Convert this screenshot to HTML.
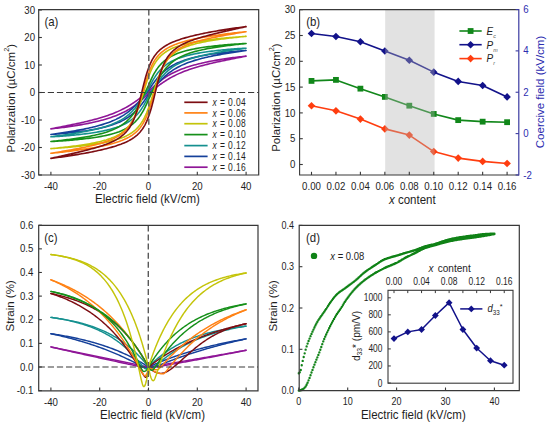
<!DOCTYPE html>
<html><head><meta charset="utf-8"><style>html,body{margin:0;padding:0;background:#fff;overflow:hidden;}svg{display:block;}</style></head><body>
<svg width="550" height="426" viewBox="0 0 550 426" font-family='"Liberation Sans", sans-serif'>
<rect width="550" height="426" fill="#fff"/>
<path d="M50.9,128.84 L52.53,128.67 L54.15,128.5 L55.78,128.32 L57.41,128.14 L59.03,127.95 L60.66,127.75 L62.29,127.55 L63.91,127.34 L65.54,127.13 L67.17,126.9 L68.79,126.68 L70.42,126.44 L72.05,126.2 L73.67,125.95 L75.3,125.69 L76.93,125.43 L78.55,125.16 L80.18,124.88 L81.81,124.59 L83.43,124.3 L85.06,123.99 L86.69,123.68 L88.31,123.36 L89.94,123.02 L91.57,122.68 L93.19,122.32 L94.82,121.95 L96.45,121.57 L98.07,121.18 L99.7,120.77 L101.33,120.35 L102.95,119.91 L104.58,119.45 L106.21,118.98 L107.83,118.48 L109.46,117.97 L111.09,117.43 L112.71,116.86 L114.34,116.27 L115.97,115.65 L117.59,115 L119.22,114.31 L120.85,113.59 L122.47,112.83 L124.1,112.03 L125.73,111.18 L127.35,110.28 L128.98,109.33 L129.96,108.74 L130.61,108.33 L130.93,108.12 L131.91,107.48 L132.23,107.27 L132.88,106.82 L133.86,106.14 L134.84,105.44 L135.49,104.96 L135.81,104.72 L136.79,103.97 L137.11,103.72 L137.76,103.2 L138.74,102.41 L139.72,101.6 L140.37,101.04 L140.69,100.76 L141.67,99.91 L141.99,99.62 L142.64,99.04 L143.62,98.15 L144.6,97.24 L145.25,96.64 L145.57,96.33 L146.55,95.4 L146.87,95.09 L147.52,94.46 L148.5,93.52 L149.48,92.74 L150.13,92.22 L150.45,91.96 L151.43,91.18 L151.75,90.92 L152.4,90.4 L153.38,89.63 L154.36,88.86 L155.01,88.35 L155.33,88.1 L156.31,87.34 L156.63,87.1 L157.28,86.6 L158.26,85.87 L159.24,85.15 L159.89,84.67 L160.21,84.44 L161.19,83.74 L161.51,83.51 L162.16,83.06 L163.14,82.39 L164.12,81.74 L164.77,81.31 L165.09,81.1 L166.07,80.47 L166.39,80.27 L167.04,79.86 L168.02,79.27 L169.65,78.31 L171.27,77.4 L172.9,76.52 L174.53,75.68 L176.15,74.88 L177.78,74.11 L179.41,73.38 L181.03,72.68 L182.66,72 L184.29,71.36 L185.91,70.74 L187.54,70.14 L189.17,69.57 L190.79,69.01 L192.42,68.48 L194.05,67.96 L195.67,67.47 L197.3,66.98 L198.93,66.52 L200.55,66.06 L202.18,65.62 L203.81,65.19 L205.43,64.77 L207.06,64.36 L208.69,63.96 L210.31,63.57 L211.94,63.19 L213.57,62.81 L215.19,62.45 L216.82,62.08 L218.45,61.73 L220.07,61.37 L221.7,61.03 L223.33,60.69 L224.95,60.35 L226.58,60.01 L228.21,59.68 L229.83,59.35 L231.46,59.03 L233.09,58.7 L234.71,58.38 L236.34,58.06 L237.97,57.74 L239.59,57.42 L241.22,57.11 L242.85,56.79 L244.47,56.48 L246.1,56.16 L246.1,56.16 L244.47,56.33 L242.85,56.5 L241.22,56.68 L239.59,56.86 L237.97,57.05 L236.34,57.25 L234.71,57.45 L233.09,57.66 L231.46,57.87 L229.83,58.1 L228.21,58.32 L226.58,58.56 L224.95,58.8 L223.33,59.05 L221.7,59.31 L220.07,59.57 L218.45,59.84 L216.82,60.12 L215.19,60.41 L213.57,60.7 L211.94,61.01 L210.31,61.32 L208.69,61.64 L207.06,61.98 L205.43,62.32 L203.81,62.68 L202.18,63.05 L200.55,63.43 L198.93,63.82 L197.3,64.23 L195.67,64.65 L194.05,65.09 L192.42,65.55 L190.79,66.02 L189.17,66.52 L187.54,67.03 L185.91,67.57 L184.29,68.14 L182.66,68.73 L181.03,69.35 L179.41,70 L177.78,70.69 L176.15,71.41 L174.53,72.17 L172.9,72.97 L171.27,73.82 L169.65,74.72 L168.02,75.67 L167.04,76.26 L166.39,76.67 L166.07,76.88 L165.09,77.52 L164.77,77.73 L164.12,78.18 L163.14,78.86 L162.16,79.56 L161.51,80.04 L161.19,80.28 L160.21,81.03 L159.89,81.28 L159.24,81.8 L158.26,82.59 L157.28,83.4 L156.63,83.96 L156.31,84.24 L155.33,85.09 L155.01,85.38 L154.36,85.96 L153.38,86.85 L152.4,87.76 L151.75,88.36 L151.43,88.67 L150.45,89.6 L150.13,89.91 L149.48,90.54 L148.5,91.48 L147.52,92.26 L146.87,92.78 L146.55,93.04 L145.57,93.82 L145.25,94.08 L144.6,94.6 L143.62,95.37 L142.64,96.14 L141.99,96.65 L141.67,96.9 L140.69,97.66 L140.37,97.9 L139.72,98.4 L138.74,99.13 L137.76,99.85 L137.11,100.33 L136.79,100.56 L135.81,101.26 L135.49,101.49 L134.84,101.94 L133.86,102.61 L132.88,103.26 L132.23,103.69 L131.91,103.9 L130.93,104.53 L130.61,104.73 L129.96,105.14 L128.98,105.73 L127.35,106.69 L125.73,107.6 L124.1,108.48 L122.47,109.32 L120.85,110.12 L119.22,110.89 L117.59,111.62 L115.97,112.32 L114.34,113 L112.71,113.64 L111.09,114.26 L109.46,114.86 L107.83,115.43 L106.21,115.99 L104.58,116.52 L102.95,117.04 L101.33,117.53 L99.7,118.02 L98.07,118.48 L96.45,118.94 L94.82,119.38 L93.19,119.81 L91.57,120.23 L89.94,120.64 L88.31,121.04 L86.69,121.43 L85.06,121.81 L83.43,122.19 L81.81,122.55 L80.18,122.92 L78.55,123.27 L76.93,123.63 L75.3,123.97 L73.67,124.31 L72.05,124.65 L70.42,124.99 L68.79,125.32 L67.17,125.65 L65.54,125.97 L63.91,126.3 L62.29,126.62 L60.66,126.94 L59.03,127.26 L57.41,127.58 L55.78,127.89 L54.15,128.21 L52.53,128.52 L50.9,128.84 L50.9,128.84" fill="none" stroke="#8f1697" stroke-width="1.6" stroke-linejoin="round" stroke-linecap="round"/>
<path d="M50.9,134.43 L52.53,134.32 L54.15,134.21 L55.78,134.09 L57.41,133.96 L59.03,133.83 L60.66,133.7 L62.29,133.56 L63.91,133.41 L65.54,133.26 L67.17,133.11 L68.79,132.94 L70.42,132.77 L72.05,132.6 L73.67,132.42 L75.3,132.23 L76.93,132.03 L78.55,131.83 L80.18,131.61 L81.81,131.39 L83.43,131.16 L85.06,130.93 L86.69,130.68 L88.31,130.42 L89.94,130.15 L91.57,129.87 L93.19,129.58 L94.82,129.27 L96.45,128.96 L98.07,128.62 L99.7,128.27 L101.33,127.9 L102.95,127.52 L104.58,127.11 L106.21,126.68 L107.83,126.23 L109.46,125.75 L111.09,125.24 L112.71,124.7 L114.34,124.12 L115.97,123.51 L117.59,122.86 L119.22,122.16 L120.85,121.41 L122.47,120.61 L124.1,119.74 L125.73,118.8 L127.35,117.79 L128.98,116.69 L129.96,115.99 L130.61,115.51 L130.93,115.26 L131.91,114.48 L132.23,114.22 L132.88,113.67 L133.86,112.82 L134.84,111.92 L135.49,111.3 L135.81,110.98 L136.79,109.99 L137.11,109.66 L137.76,108.96 L138.74,107.88 L139.72,106.75 L140.37,105.97 L140.69,105.57 L141.67,104.34 L141.99,103.93 L142.64,103.07 L143.62,101.76 L144.6,100.4 L145.25,99.47 L145.57,99.01 L146.55,97.58 L146.87,97.1 L147.52,96.13 L148.5,94.66 L149.48,93.47 L150.13,92.66 L150.45,92.26 L151.43,91.06 L151.75,90.66 L152.4,89.87 L153.38,88.68 L154.36,87.5 L155.01,86.73 L155.33,86.34 L156.31,85.2 L156.63,84.83 L157.28,84.09 L158.26,83 L159.24,81.93 L159.89,81.24 L160.21,80.89 L161.19,79.89 L161.51,79.56 L162.16,78.91 L163.14,77.96 L164.12,77.05 L164.77,76.46 L165.09,76.17 L166.07,75.32 L166.39,75.04 L167.04,74.5 L168.02,73.71 L169.65,72.46 L171.27,71.29 L172.9,70.19 L174.53,69.16 L176.15,68.19 L177.78,67.28 L179.41,66.43 L181.03,65.63 L182.66,64.88 L184.29,64.17 L185.91,63.49 L187.54,62.86 L189.17,62.25 L190.79,61.68 L192.42,61.14 L194.05,60.62 L195.67,60.12 L197.3,59.65 L198.93,59.2 L200.55,58.77 L202.18,58.35 L203.81,57.95 L205.43,57.56 L207.06,57.19 L208.69,56.83 L210.31,56.48 L211.94,56.15 L213.57,55.82 L215.19,55.5 L216.82,55.19 L218.45,54.89 L220.07,54.6 L221.7,54.31 L223.33,54.03 L224.95,53.76 L226.58,53.49 L228.21,53.23 L229.83,52.97 L231.46,52.71 L233.09,52.46 L234.71,52.22 L236.34,51.97 L237.97,51.73 L239.59,51.49 L241.22,51.26 L242.85,51.03 L244.47,50.8 L246.1,50.57 L246.1,50.57 L244.47,50.68 L242.85,50.79 L241.22,50.91 L239.59,51.04 L237.97,51.17 L236.34,51.3 L234.71,51.44 L233.09,51.59 L231.46,51.74 L229.83,51.89 L228.21,52.06 L226.58,52.23 L224.95,52.4 L223.33,52.58 L221.7,52.77 L220.07,52.97 L218.45,53.17 L216.82,53.39 L215.19,53.61 L213.57,53.84 L211.94,54.07 L210.31,54.32 L208.69,54.58 L207.06,54.85 L205.43,55.13 L203.81,55.42 L202.18,55.73 L200.55,56.04 L198.93,56.38 L197.3,56.73 L195.67,57.1 L194.05,57.48 L192.42,57.89 L190.79,58.32 L189.17,58.77 L187.54,59.25 L185.91,59.76 L184.29,60.3 L182.66,60.88 L181.03,61.49 L179.41,62.14 L177.78,62.84 L176.15,63.59 L174.53,64.39 L172.9,65.26 L171.27,66.2 L169.65,67.21 L168.02,68.31 L167.04,69.01 L166.39,69.49 L166.07,69.74 L165.09,70.52 L164.77,70.78 L164.12,71.33 L163.14,72.18 L162.16,73.08 L161.51,73.7 L161.19,74.02 L160.21,75.01 L159.89,75.34 L159.24,76.04 L158.26,77.12 L157.28,78.25 L156.63,79.03 L156.31,79.43 L155.33,80.66 L155.01,81.07 L154.36,81.93 L153.38,83.24 L152.4,84.6 L151.75,85.53 L151.43,85.99 L150.45,87.42 L150.13,87.9 L149.48,88.87 L148.5,90.34 L147.52,91.53 L146.87,92.34 L146.55,92.74 L145.57,93.94 L145.25,94.34 L144.6,95.13 L143.62,96.32 L142.64,97.5 L141.99,98.27 L141.67,98.66 L140.69,99.8 L140.37,100.17 L139.72,100.91 L138.74,102 L137.76,103.07 L137.11,103.76 L136.79,104.11 L135.81,105.11 L135.49,105.44 L134.84,106.09 L133.86,107.04 L132.88,107.95 L132.23,108.54 L131.91,108.83 L130.93,109.68 L130.61,109.96 L129.96,110.5 L128.98,111.29 L127.35,112.54 L125.73,113.71 L124.1,114.81 L122.47,115.84 L120.85,116.81 L119.22,117.72 L117.59,118.57 L115.97,119.37 L114.34,120.12 L112.71,120.83 L111.09,121.51 L109.46,122.14 L107.83,122.75 L106.21,123.32 L104.58,123.86 L102.95,124.38 L101.33,124.88 L99.7,125.35 L98.07,125.8 L96.45,126.23 L94.82,126.65 L93.19,127.05 L91.57,127.44 L89.94,127.81 L88.31,128.17 L86.69,128.52 L85.06,128.85 L83.43,129.18 L81.81,129.5 L80.18,129.81 L78.55,130.11 L76.93,130.4 L75.3,130.69 L73.67,130.97 L72.05,131.24 L70.42,131.51 L68.79,131.77 L67.17,132.03 L65.54,132.29 L63.91,132.54 L62.29,132.78 L60.66,133.03 L59.03,133.27 L57.41,133.51 L55.78,133.74 L54.15,133.97 L52.53,134.2 L50.9,134.43 L50.9,134.43" fill="none" stroke="#15409a" stroke-width="1.6" stroke-linejoin="round" stroke-linecap="round"/>
<path d="M50.9,136.81 L52.53,136.72 L54.15,136.63 L55.78,136.54 L57.41,136.44 L59.03,136.33 L60.66,136.22 L62.29,136.1 L63.91,135.98 L65.54,135.86 L67.17,135.72 L68.79,135.59 L70.42,135.44 L72.05,135.29 L73.67,135.14 L75.3,134.98 L76.93,134.81 L78.55,134.63 L80.18,134.45 L81.81,134.27 L83.43,134.07 L85.06,133.87 L86.69,133.65 L88.31,133.43 L89.94,133.21 L91.57,132.97 L93.19,132.72 L94.82,132.46 L96.45,132.19 L98.07,131.9 L99.7,131.6 L101.33,131.29 L102.95,130.96 L104.58,130.62 L106.21,130.25 L107.83,129.87 L109.46,129.46 L111.09,129.03 L112.71,128.57 L114.34,128.08 L115.97,127.56 L117.59,127 L119.22,126.4 L120.85,125.75 L122.47,125.04 L124.1,124.28 L125.73,123.44 L127.35,122.53 L128.98,121.52 L129.96,120.87 L130.61,120.41 L130.93,120.17 L131.91,119.44 L132.23,119.18 L132.88,118.65 L133.86,117.81 L134.84,116.92 L135.49,116.29 L135.81,115.96 L136.79,114.94 L137.11,114.58 L137.76,113.85 L138.74,112.68 L139.72,111.43 L140.37,110.55 L140.69,110.1 L141.67,108.68 L141.99,108.18 L142.64,107.17 L143.62,105.57 L144.6,103.88 L145.25,102.7 L145.57,102.1 L146.55,100.25 L146.87,99.62 L147.52,98.34 L148.5,96.37 L149.48,94.85 L150.13,93.82 L150.45,93.31 L151.43,91.77 L151.75,91.25 L152.4,90.23 L153.38,88.7 L154.36,87.2 L155.01,86.21 L155.33,85.72 L156.31,84.28 L156.63,83.81 L157.28,82.88 L158.26,81.52 L159.24,80.21 L159.89,79.36 L160.21,78.95 L161.19,77.74 L161.51,77.35 L162.16,76.58 L163.14,75.48 L164.12,74.42 L164.77,73.75 L165.09,73.42 L166.07,72.46 L166.39,72.15 L167.04,71.55 L168.02,70.68 L169.65,69.34 L171.27,68.09 L172.9,66.95 L174.53,65.9 L176.15,64.92 L177.78,64.02 L179.41,63.18 L181.03,62.4 L182.66,61.67 L184.29,60.99 L185.91,60.35 L187.54,59.75 L189.17,59.19 L190.79,58.65 L192.42,58.15 L194.05,57.67 L195.67,57.21 L197.3,56.77 L198.93,56.36 L200.55,55.96 L202.18,55.57 L203.81,55.2 L205.43,54.85 L207.06,54.51 L208.69,54.17 L210.31,53.85 L211.94,53.54 L213.57,53.24 L215.19,52.94 L216.82,52.65 L218.45,52.37 L220.07,52.1 L221.7,51.83 L223.33,51.56 L224.95,51.3 L226.58,51.05 L228.21,50.8 L229.83,50.55 L231.46,50.3 L233.09,50.06 L234.71,49.82 L236.34,49.58 L237.97,49.35 L239.59,49.12 L241.22,48.88 L242.85,48.65 L244.47,48.42 L246.1,48.19 L246.1,48.19 L244.47,48.28 L242.85,48.37 L241.22,48.46 L239.59,48.56 L237.97,48.67 L236.34,48.78 L234.71,48.9 L233.09,49.02 L231.46,49.14 L229.83,49.28 L228.21,49.41 L226.58,49.56 L224.95,49.71 L223.33,49.86 L221.7,50.02 L220.07,50.19 L218.45,50.37 L216.82,50.55 L215.19,50.73 L213.57,50.93 L211.94,51.13 L210.31,51.35 L208.69,51.57 L207.06,51.79 L205.43,52.03 L203.81,52.28 L202.18,52.54 L200.55,52.81 L198.93,53.1 L197.3,53.4 L195.67,53.71 L194.05,54.04 L192.42,54.38 L190.79,54.75 L189.17,55.13 L187.54,55.54 L185.91,55.97 L184.29,56.43 L182.66,56.92 L181.03,57.44 L179.41,58 L177.78,58.6 L176.15,59.25 L174.53,59.96 L172.9,60.72 L171.27,61.56 L169.65,62.47 L168.02,63.48 L167.04,64.13 L166.39,64.59 L166.07,64.83 L165.09,65.56 L164.77,65.82 L164.12,66.35 L163.14,67.19 L162.16,68.08 L161.51,68.71 L161.19,69.04 L160.21,70.06 L159.89,70.42 L159.24,71.15 L158.26,72.32 L157.28,73.57 L156.63,74.45 L156.31,74.9 L155.33,76.32 L155.01,76.82 L154.36,77.83 L153.38,79.43 L152.4,81.12 L151.75,82.3 L151.43,82.9 L150.45,84.75 L150.13,85.38 L149.48,86.66 L148.5,88.63 L147.52,90.15 L146.87,91.18 L146.55,91.69 L145.57,93.23 L145.25,93.75 L144.6,94.77 L143.62,96.3 L142.64,97.8 L141.99,98.79 L141.67,99.28 L140.69,100.72 L140.37,101.19 L139.72,102.12 L138.74,103.48 L137.76,104.79 L137.11,105.64 L136.79,106.05 L135.81,107.26 L135.49,107.65 L134.84,108.42 L133.86,109.52 L132.88,110.58 L132.23,111.25 L131.91,111.58 L130.93,112.54 L130.61,112.85 L129.96,113.45 L128.98,114.32 L127.35,115.66 L125.73,116.91 L124.1,118.05 L122.47,119.1 L120.85,120.08 L119.22,120.98 L117.59,121.82 L115.97,122.6 L114.34,123.33 L112.71,124.01 L111.09,124.65 L109.46,125.25 L107.83,125.81 L106.21,126.35 L104.58,126.85 L102.95,127.33 L101.33,127.79 L99.7,128.23 L98.07,128.64 L96.45,129.04 L94.82,129.43 L93.19,129.8 L91.57,130.15 L89.94,130.49 L88.31,130.83 L86.69,131.15 L85.06,131.46 L83.43,131.76 L81.81,132.06 L80.18,132.35 L78.55,132.63 L76.93,132.9 L75.3,133.17 L73.67,133.44 L72.05,133.7 L70.42,133.95 L68.79,134.2 L67.17,134.45 L65.54,134.7 L63.91,134.94 L62.29,135.18 L60.66,135.42 L59.03,135.65 L57.41,135.88 L55.78,136.12 L54.15,136.35 L52.53,136.58 L50.9,136.81 L50.9,136.81" fill="none" stroke="#15908f" stroke-width="1.6" stroke-linejoin="round" stroke-linecap="round"/>
<path d="M50.9,141.53 L52.53,141.44 L54.15,141.35 L55.78,141.25 L57.41,141.15 L59.03,141.05 L60.66,140.94 L62.29,140.83 L63.91,140.72 L65.54,140.6 L67.17,140.48 L68.79,140.35 L70.42,140.21 L72.05,140.08 L73.67,139.93 L75.3,139.79 L76.93,139.63 L78.55,139.47 L80.18,139.3 L81.81,139.13 L83.43,138.95 L85.06,138.77 L86.69,138.57 L88.31,138.37 L89.94,138.16 L91.57,137.93 L93.19,137.7 L94.82,137.46 L96.45,137.21 L98.07,136.94 L99.7,136.66 L101.33,136.37 L102.95,136.06 L104.58,135.73 L106.21,135.39 L107.83,135.02 L109.46,134.63 L111.09,134.21 L112.71,133.77 L114.34,133.3 L115.97,132.79 L117.59,132.24 L119.22,131.65 L120.85,131 L122.47,130.31 L124.1,129.55 L125.73,128.71 L127.35,127.8 L128.98,126.79 L129.96,126.13 L130.61,125.66 L130.93,125.43 L131.91,124.68 L132.23,124.42 L132.88,123.88 L133.86,123.02 L134.84,122.1 L135.49,121.45 L135.81,121.11 L136.79,120.05 L137.11,119.68 L137.76,118.91 L138.74,117.69 L139.72,116.37 L140.37,115.44 L140.69,114.95 L141.67,113.43 L141.99,112.9 L142.64,111.79 L143.62,110.04 L144.6,108.17 L145.25,106.86 L145.57,106.18 L146.55,104.09 L146.87,103.36 L147.52,101.88 L148.5,99.59 L149.48,97.59 L150.13,96.23 L150.45,95.55 L151.43,93.48 L151.75,92.79 L152.4,91.4 L153.38,89.34 L154.36,87.3 L155.01,85.96 L155.33,85.3 L156.31,83.35 L156.63,82.71 L157.28,81.46 L158.26,79.65 L159.24,77.91 L159.89,76.8 L160.21,76.26 L161.19,74.69 L161.51,74.19 L162.16,73.21 L163.14,71.81 L164.12,70.49 L164.77,69.65 L165.09,69.25 L166.07,68.08 L166.39,67.71 L167.04,66.98 L168.02,65.95 L169.65,64.36 L171.27,62.92 L172.9,61.62 L174.53,60.44 L176.15,59.37 L177.78,58.38 L179.41,57.48 L181.03,56.65 L182.66,55.89 L184.29,55.18 L185.91,54.52 L187.54,53.91 L189.17,53.34 L190.79,52.8 L192.42,52.3 L194.05,51.83 L195.67,51.38 L197.3,50.96 L198.93,50.56 L200.55,50.17 L202.18,49.81 L203.81,49.46 L205.43,49.13 L207.06,48.82 L208.69,48.51 L210.31,48.22 L211.94,47.94 L213.57,47.66 L215.19,47.4 L216.82,47.15 L218.45,46.9 L220.07,46.66 L221.7,46.43 L223.33,46.2 L224.95,45.98 L226.58,45.76 L228.21,45.55 L229.83,45.35 L231.46,45.15 L233.09,44.95 L234.71,44.75 L236.34,44.56 L237.97,44.37 L239.59,44.19 L241.22,44.01 L242.85,43.83 L244.47,43.65 L246.1,43.47 L246.1,43.47 L244.47,43.56 L242.85,43.65 L241.22,43.75 L239.59,43.85 L237.97,43.95 L236.34,44.06 L234.71,44.17 L233.09,44.28 L231.46,44.4 L229.83,44.52 L228.21,44.65 L226.58,44.79 L224.95,44.92 L223.33,45.07 L221.7,45.21 L220.07,45.37 L218.45,45.53 L216.82,45.7 L215.19,45.87 L213.57,46.05 L211.94,46.23 L210.31,46.43 L208.69,46.63 L207.06,46.84 L205.43,47.07 L203.81,47.3 L202.18,47.54 L200.55,47.79 L198.93,48.06 L197.3,48.34 L195.67,48.63 L194.05,48.94 L192.42,49.27 L190.79,49.61 L189.17,49.98 L187.54,50.37 L185.91,50.79 L184.29,51.23 L182.66,51.7 L181.03,52.21 L179.41,52.76 L177.78,53.35 L176.15,54 L174.53,54.69 L172.9,55.45 L171.27,56.29 L169.65,57.2 L168.02,58.21 L167.04,58.87 L166.39,59.34 L166.07,59.57 L165.09,60.32 L164.77,60.58 L164.12,61.12 L163.14,61.98 L162.16,62.9 L161.51,63.55 L161.19,63.89 L160.21,64.95 L159.89,65.32 L159.24,66.09 L158.26,67.31 L157.28,68.63 L156.63,69.56 L156.31,70.05 L155.33,71.57 L155.01,72.1 L154.36,73.21 L153.38,74.96 L152.4,76.83 L151.75,78.14 L151.43,78.82 L150.45,80.91 L150.13,81.64 L149.48,83.12 L148.5,85.41 L147.52,87.41 L146.87,88.77 L146.55,89.45 L145.57,91.52 L145.25,92.21 L144.6,93.6 L143.62,95.66 L142.64,97.7 L141.99,99.04 L141.67,99.7 L140.69,101.65 L140.37,102.29 L139.72,103.54 L138.74,105.35 L137.76,107.09 L137.11,108.2 L136.79,108.74 L135.81,110.31 L135.49,110.81 L134.84,111.79 L133.86,113.19 L132.88,114.51 L132.23,115.35 L131.91,115.75 L130.93,116.92 L130.61,117.29 L129.96,118.02 L128.98,119.05 L127.35,120.64 L125.73,122.08 L124.1,123.38 L122.47,124.56 L120.85,125.63 L119.22,126.62 L117.59,127.52 L115.97,128.35 L114.34,129.11 L112.71,129.82 L111.09,130.48 L109.46,131.09 L107.83,131.66 L106.21,132.2 L104.58,132.7 L102.95,133.17 L101.33,133.62 L99.7,134.04 L98.07,134.44 L96.45,134.83 L94.82,135.19 L93.19,135.54 L91.57,135.87 L89.94,136.18 L88.31,136.49 L86.69,136.78 L85.06,137.06 L83.43,137.34 L81.81,137.6 L80.18,137.85 L78.55,138.1 L76.93,138.34 L75.3,138.57 L73.67,138.8 L72.05,139.02 L70.42,139.24 L68.79,139.45 L67.17,139.65 L65.54,139.85 L63.91,140.05 L62.29,140.25 L60.66,140.44 L59.03,140.63 L57.41,140.81 L55.78,140.99 L54.15,141.17 L52.53,141.35 L50.9,141.53 L50.9,141.53" fill="none" stroke="#16901a" stroke-width="1.6" stroke-linejoin="round" stroke-linecap="round"/>
<path d="M50.9,148.67 L52.53,148.55 L54.15,148.43 L55.78,148.31 L57.41,148.18 L59.03,148.05 L60.66,147.92 L62.29,147.79 L63.91,147.65 L65.54,147.51 L67.17,147.37 L68.79,147.23 L70.42,147.08 L72.05,146.92 L73.67,146.76 L75.3,146.6 L76.93,146.44 L78.55,146.27 L80.18,146.09 L81.81,145.91 L83.43,145.72 L85.06,145.53 L86.69,145.33 L88.31,145.13 L89.94,144.91 L91.57,144.69 L93.19,144.46 L94.82,144.23 L96.45,143.98 L98.07,143.72 L99.7,143.45 L101.33,143.17 L102.95,142.87 L104.58,142.56 L106.21,142.24 L107.83,141.9 L109.46,141.53 L111.09,141.15 L112.71,140.74 L114.34,140.31 L115.97,139.84 L117.59,139.35 L119.22,138.81 L120.85,138.24 L122.47,137.61 L124.1,136.93 L125.73,136.19 L127.35,135.38 L128.98,134.49 L129.96,133.9 L130.61,133.5 L130.93,133.28 L131.91,132.62 L132.23,132.39 L132.88,131.91 L133.86,131.15 L134.84,130.33 L135.49,129.76 L135.81,129.45 L136.79,128.5 L137.11,128.17 L137.76,127.48 L138.74,126.36 L139.72,125.15 L140.37,124.29 L140.69,123.84 L141.67,122.41 L141.99,121.9 L142.64,120.84 L143.62,119.14 L144.6,117.28 L145.25,115.94 L145.57,115.25 L146.55,113.05 L146.87,112.27 L147.52,110.66 L148.5,108.09 L149.48,105.34 L150.13,103.43 L150.45,102.44 L151.43,99.4 L151.75,98.36 L152.4,96.26 L153.38,93.06 L154.36,89.84 L155.01,87.72 L155.33,86.67 L156.31,83.59 L156.63,82.59 L157.28,80.63 L158.26,77.83 L159.24,75.2 L159.89,73.55 L160.21,72.75 L161.19,70.48 L161.51,69.77 L162.16,68.39 L163.14,66.48 L164.12,64.72 L164.77,63.63 L165.09,63.1 L166.07,61.62 L166.39,61.16 L167.04,60.26 L168.02,59.02 L169.65,57.15 L171.27,55.51 L172.9,54.07 L174.53,52.8 L176.15,51.66 L177.78,50.63 L179.41,49.71 L181.03,48.87 L182.66,48.11 L184.29,47.41 L185.91,46.76 L187.54,46.17 L189.17,45.62 L190.79,45.1 L192.42,44.62 L194.05,44.17 L195.67,43.74 L197.3,43.34 L198.93,42.96 L200.55,42.6 L202.18,42.26 L203.81,41.94 L205.43,41.62 L207.06,41.33 L208.69,41.04 L210.31,40.76 L211.94,40.5 L213.57,40.24 L215.19,40 L216.82,39.76 L218.45,39.53 L220.07,39.3 L221.7,39.08 L223.33,38.87 L224.95,38.66 L226.58,38.46 L228.21,38.27 L229.83,38.07 L231.46,37.88 L233.09,37.7 L234.71,37.52 L236.34,37.34 L237.97,37.17 L239.59,36.99 L241.22,36.82 L242.85,36.66 L244.47,36.49 L246.1,36.33 L246.1,36.33 L244.47,36.45 L242.85,36.57 L241.22,36.69 L239.59,36.82 L237.97,36.95 L236.34,37.08 L234.71,37.21 L233.09,37.35 L231.46,37.49 L229.83,37.63 L228.21,37.77 L226.58,37.92 L224.95,38.08 L223.33,38.24 L221.7,38.4 L220.07,38.56 L218.45,38.73 L216.82,38.91 L215.19,39.09 L213.57,39.28 L211.94,39.47 L210.31,39.67 L208.69,39.87 L207.06,40.09 L205.43,40.31 L203.81,40.54 L202.18,40.77 L200.55,41.02 L198.93,41.28 L197.3,41.55 L195.67,41.83 L194.05,42.13 L192.42,42.44 L190.79,42.76 L189.17,43.1 L187.54,43.47 L185.91,43.85 L184.29,44.26 L182.66,44.69 L181.03,45.16 L179.41,45.65 L177.78,46.19 L176.15,46.76 L174.53,47.39 L172.9,48.07 L171.27,48.81 L169.65,49.62 L168.02,50.51 L167.04,51.1 L166.39,51.5 L166.07,51.72 L165.09,52.38 L164.77,52.61 L164.12,53.09 L163.14,53.85 L162.16,54.67 L161.51,55.24 L161.19,55.55 L160.21,56.5 L159.89,56.83 L159.24,57.52 L158.26,58.64 L157.28,59.85 L156.63,60.71 L156.31,61.16 L155.33,62.59 L155.01,63.1 L154.36,64.16 L153.38,65.86 L152.4,67.72 L151.75,69.06 L151.43,69.75 L150.45,71.95 L150.13,72.73 L149.48,74.34 L148.5,76.91 L147.52,79.66 L146.87,81.57 L146.55,82.56 L145.57,85.6 L145.25,86.64 L144.6,88.74 L143.62,91.94 L142.64,95.16 L141.99,97.28 L141.67,98.33 L140.69,101.41 L140.37,102.41 L139.72,104.37 L138.74,107.17 L137.76,109.8 L137.11,111.45 L136.79,112.25 L135.81,114.52 L135.49,115.23 L134.84,116.61 L133.86,118.52 L132.88,120.28 L132.23,121.37 L131.91,121.9 L130.93,123.38 L130.61,123.84 L129.96,124.74 L128.98,125.98 L127.35,127.85 L125.73,129.49 L124.1,130.93 L122.47,132.2 L120.85,133.34 L119.22,134.37 L117.59,135.29 L115.97,136.13 L114.34,136.89 L112.71,137.59 L111.09,138.24 L109.46,138.83 L107.83,139.38 L106.21,139.9 L104.58,140.38 L102.95,140.83 L101.33,141.26 L99.7,141.66 L98.07,142.04 L96.45,142.4 L94.82,142.74 L93.19,143.06 L91.57,143.38 L89.94,143.67 L88.31,143.96 L86.69,144.24 L85.06,144.5 L83.43,144.76 L81.81,145 L80.18,145.24 L78.55,145.47 L76.93,145.7 L75.3,145.92 L73.67,146.13 L72.05,146.34 L70.42,146.54 L68.79,146.73 L67.17,146.93 L65.54,147.12 L63.91,147.3 L62.29,147.48 L60.66,147.66 L59.03,147.83 L57.41,148.01 L55.78,148.18 L54.15,148.34 L52.53,148.51 L50.9,148.67 L50.9,148.67" fill="none" stroke="#c4c40a" stroke-width="1.6" stroke-linejoin="round" stroke-linecap="round"/>
<path d="M50.9,153.29 L52.53,153.13 L54.15,152.97 L55.78,152.8 L57.41,152.63 L59.03,152.46 L60.66,152.28 L62.29,152.1 L63.91,151.92 L65.54,151.73 L67.17,151.53 L68.79,151.34 L70.42,151.13 L72.05,150.93 L73.67,150.72 L75.3,150.5 L76.93,150.28 L78.55,150.06 L80.18,149.83 L81.81,149.59 L83.43,149.35 L85.06,149.11 L86.69,148.85 L88.31,148.59 L89.94,148.33 L91.57,148.05 L93.19,147.77 L94.82,147.48 L96.45,147.18 L98.07,146.87 L99.7,146.55 L101.33,146.22 L102.95,145.88 L104.58,145.52 L106.21,145.15 L107.83,144.76 L109.46,144.36 L111.09,143.94 L112.71,143.49 L114.34,143.03 L115.97,142.53 L117.59,142.01 L119.22,141.46 L120.85,140.87 L122.47,140.23 L124.1,139.55 L125.73,138.81 L127.35,138.01 L128.98,137.14 L129.96,136.57 L130.61,136.18 L130.93,135.98 L131.91,135.34 L132.23,135.12 L132.88,134.66 L133.86,133.93 L134.84,133.15 L135.49,132.6 L135.81,132.32 L136.79,131.42 L137.11,131.1 L137.76,130.44 L138.74,129.39 L139.72,128.24 L140.37,127.42 L140.69,126.99 L141.67,125.62 L141.99,125.14 L142.64,124.13 L143.62,122.48 L144.6,120.67 L145.25,119.36 L145.57,118.68 L146.55,116.48 L146.87,115.71 L147.52,114.07 L148.5,111.44 L149.48,108.73 L150.13,106.81 L150.45,105.81 L151.43,102.71 L151.75,101.64 L152.4,99.46 L153.38,96.08 L154.36,92.64 L155.01,90.34 L155.33,89.2 L156.31,85.82 L156.63,84.71 L157.28,82.54 L158.26,79.42 L159.24,76.49 L159.89,74.64 L160.21,73.76 L161.19,71.23 L161.51,70.44 L162.16,68.91 L163.14,66.79 L164.12,64.85 L164.77,63.65 L165.09,63.07 L166.07,61.45 L166.39,60.95 L167.04,59.97 L168.02,58.61 L169.65,56.59 L171.27,54.82 L172.9,53.27 L174.53,51.89 L176.15,50.66 L177.78,49.55 L179.41,48.55 L181.03,47.63 L182.66,46.8 L184.29,46.02 L185.91,45.31 L187.54,44.64 L189.17,44.02 L190.79,43.43 L192.42,42.88 L194.05,42.35 L195.67,41.86 L197.3,41.38 L198.93,40.93 L200.55,40.49 L202.18,40.08 L203.81,39.67 L205.43,39.28 L207.06,38.91 L208.69,38.54 L210.31,38.19 L211.94,37.84 L213.57,37.5 L215.19,37.17 L216.82,36.85 L218.45,36.53 L220.07,36.22 L221.7,35.92 L223.33,35.61 L224.95,35.32 L226.58,35.02 L228.21,34.74 L229.83,34.45 L231.46,34.17 L233.09,33.89 L234.71,33.61 L236.34,33.33 L237.97,33.06 L239.59,32.78 L241.22,32.51 L242.85,32.24 L244.47,31.97 L246.1,31.71 L246.1,31.71 L244.47,31.87 L242.85,32.03 L241.22,32.2 L239.59,32.37 L237.97,32.54 L236.34,32.72 L234.71,32.9 L233.09,33.08 L231.46,33.27 L229.83,33.47 L228.21,33.66 L226.58,33.87 L224.95,34.07 L223.33,34.28 L221.7,34.5 L220.07,34.72 L218.45,34.94 L216.82,35.17 L215.19,35.41 L213.57,35.65 L211.94,35.89 L210.31,36.15 L208.69,36.41 L207.06,36.67 L205.43,36.95 L203.81,37.23 L202.18,37.52 L200.55,37.82 L198.93,38.13 L197.3,38.45 L195.67,38.78 L194.05,39.12 L192.42,39.48 L190.79,39.85 L189.17,40.24 L187.54,40.64 L185.91,41.06 L184.29,41.51 L182.66,41.97 L181.03,42.47 L179.41,42.99 L177.78,43.54 L176.15,44.13 L174.53,44.77 L172.9,45.45 L171.27,46.19 L169.65,46.99 L168.02,47.86 L167.04,48.43 L166.39,48.82 L166.07,49.02 L165.09,49.66 L164.77,49.88 L164.12,50.34 L163.14,51.07 L162.16,51.85 L161.51,52.4 L161.19,52.68 L160.21,53.58 L159.89,53.9 L159.24,54.56 L158.26,55.61 L157.28,56.76 L156.63,57.58 L156.31,58.01 L155.33,59.38 L155.01,59.86 L154.36,60.87 L153.38,62.52 L152.4,64.33 L151.75,65.64 L151.43,66.32 L150.45,68.52 L150.13,69.29 L149.48,70.93 L148.5,73.56 L147.52,76.27 L146.87,78.19 L146.55,79.19 L145.57,82.29 L145.25,83.36 L144.6,85.54 L143.62,88.92 L142.64,92.36 L141.99,94.66 L141.67,95.8 L140.69,99.18 L140.37,100.29 L139.72,102.46 L138.74,105.58 L137.76,108.51 L137.11,110.36 L136.79,111.24 L135.81,113.77 L135.49,114.56 L134.84,116.09 L133.86,118.21 L132.88,120.15 L132.23,121.35 L131.91,121.93 L130.93,123.55 L130.61,124.05 L129.96,125.03 L128.98,126.39 L127.35,128.41 L125.73,130.18 L124.1,131.73 L122.47,133.11 L120.85,134.34 L119.22,135.45 L117.59,136.45 L115.97,137.37 L114.34,138.2 L112.71,138.98 L111.09,139.69 L109.46,140.36 L107.83,140.98 L106.21,141.57 L104.58,142.12 L102.95,142.65 L101.33,143.14 L99.7,143.62 L98.07,144.07 L96.45,144.51 L94.82,144.92 L93.19,145.33 L91.57,145.72 L89.94,146.09 L88.31,146.46 L86.69,146.81 L85.06,147.16 L83.43,147.5 L81.81,147.83 L80.18,148.15 L78.55,148.47 L76.93,148.78 L75.3,149.08 L73.67,149.39 L72.05,149.68 L70.42,149.98 L68.79,150.26 L67.17,150.55 L65.54,150.83 L63.91,151.11 L62.29,151.39 L60.66,151.67 L59.03,151.94 L57.41,152.22 L55.78,152.49 L54.15,152.76 L52.53,153.03 L50.9,153.29 L50.9,153.29" fill="none" stroke="#ff8215" stroke-width="1.6" stroke-linejoin="round" stroke-linecap="round"/>
<path d="M50.9,158.37 L52.53,158.17 L54.15,157.96 L55.78,157.75 L57.41,157.54 L59.03,157.32 L60.66,157.1 L62.29,156.87 L63.91,156.64 L65.54,156.4 L67.17,156.16 L68.79,155.92 L70.42,155.67 L72.05,155.41 L73.67,155.16 L75.3,154.89 L76.93,154.62 L78.55,154.35 L80.18,154.07 L81.81,153.78 L83.43,153.49 L85.06,153.2 L86.69,152.89 L88.31,152.59 L89.94,152.27 L91.57,151.95 L93.19,151.62 L94.82,151.28 L96.45,150.94 L98.07,150.58 L99.7,150.22 L101.33,149.85 L102.95,149.46 L104.58,149.07 L106.21,148.66 L107.83,148.24 L109.46,147.81 L111.09,147.36 L112.71,146.89 L114.34,146.4 L115.97,145.89 L117.59,145.35 L119.22,144.79 L120.85,144.2 L122.47,143.57 L124.1,142.9 L125.73,142.19 L127.35,141.42 L128.98,140.6 L129.96,140.06 L130.61,139.69 L130.93,139.5 L131.91,138.91 L132.23,138.71 L132.88,138.28 L133.86,137.62 L134.84,136.9 L135.49,136.4 L135.81,136.14 L136.79,135.32 L137.11,135.04 L137.76,134.44 L138.74,133.49 L139.72,132.45 L140.37,131.71 L140.69,131.32 L141.67,130.08 L141.99,129.64 L142.64,128.72 L143.62,127.21 L144.6,125.54 L145.25,124.32 L145.57,123.68 L146.55,121.6 L146.87,120.86 L147.52,119.28 L148.5,116.68 L149.48,113.96 L150.13,111.99 L150.45,110.96 L151.43,107.67 L151.75,106.52 L152.4,104.11 L153.38,100.31 L154.36,96.34 L155.01,93.63 L155.33,92.27 L156.31,88.2 L156.63,86.87 L157.28,84.24 L158.26,80.46 L159.24,76.92 L159.89,74.71 L160.21,73.66 L161.19,70.68 L161.51,69.75 L162.16,67.99 L163.14,65.56 L164.12,63.37 L164.77,62.04 L165.09,61.4 L166.07,59.63 L166.39,59.08 L167.04,58.02 L168.02,56.57 L169.65,54.43 L171.27,52.58 L172.9,50.96 L174.53,49.54 L176.15,48.27 L177.78,47.13 L179.41,46.1 L181.03,45.15 L182.66,44.28 L184.29,43.48 L185.91,42.73 L187.54,42.03 L189.17,41.37 L190.79,40.74 L192.42,40.15 L194.05,39.58 L195.67,39.04 L197.3,38.51 L198.93,38.01 L200.55,37.52 L202.18,37.05 L203.81,36.59 L205.43,36.15 L207.06,35.71 L208.69,35.28 L210.31,34.87 L211.94,34.45 L213.57,34.05 L215.19,33.65 L216.82,33.26 L218.45,32.87 L220.07,32.49 L221.7,32.11 L223.33,31.74 L224.95,31.36 L226.58,30.99 L228.21,30.62 L229.83,30.26 L231.46,29.89 L233.09,29.53 L234.71,29.17 L236.34,28.8 L237.97,28.44 L239.59,28.08 L241.22,27.72 L242.85,27.36 L244.47,26.99 L246.1,26.63 L246.1,26.63 L244.47,26.83 L242.85,27.04 L241.22,27.25 L239.59,27.46 L237.97,27.68 L236.34,27.9 L234.71,28.13 L233.09,28.36 L231.46,28.6 L229.83,28.84 L228.21,29.08 L226.58,29.33 L224.95,29.59 L223.33,29.84 L221.7,30.11 L220.07,30.38 L218.45,30.65 L216.82,30.93 L215.19,31.22 L213.57,31.51 L211.94,31.8 L210.31,32.11 L208.69,32.41 L207.06,32.73 L205.43,33.05 L203.81,33.38 L202.18,33.72 L200.55,34.06 L198.93,34.42 L197.3,34.78 L195.67,35.15 L194.05,35.54 L192.42,35.93 L190.79,36.34 L189.17,36.76 L187.54,37.19 L185.91,37.64 L184.29,38.11 L182.66,38.6 L181.03,39.11 L179.41,39.65 L177.78,40.21 L176.15,40.8 L174.53,41.43 L172.9,42.1 L171.27,42.81 L169.65,43.58 L168.02,44.4 L167.04,44.94 L166.39,45.31 L166.07,45.5 L165.09,46.09 L164.77,46.29 L164.12,46.72 L163.14,47.38 L162.16,48.1 L161.51,48.6 L161.19,48.86 L160.21,49.68 L159.89,49.96 L159.24,50.56 L158.26,51.51 L157.28,52.55 L156.63,53.29 L156.31,53.68 L155.33,54.92 L155.01,55.36 L154.36,56.28 L153.38,57.79 L152.4,59.46 L151.75,60.68 L151.43,61.32 L150.45,63.4 L150.13,64.14 L149.48,65.72 L148.5,68.32 L147.52,71.04 L146.87,73.01 L146.55,74.04 L145.57,77.33 L145.25,78.48 L144.6,80.89 L143.62,84.69 L142.64,88.66 L141.99,91.37 L141.67,92.73 L140.69,96.8 L140.37,98.13 L139.72,100.76 L138.74,104.54 L137.76,108.08 L137.11,110.29 L136.79,111.34 L135.81,114.32 L135.49,115.25 L134.84,117.01 L133.86,119.44 L132.88,121.63 L132.23,122.96 L131.91,123.6 L130.93,125.37 L130.61,125.92 L129.96,126.98 L128.98,128.43 L127.35,130.57 L125.73,132.42 L124.1,134.04 L122.47,135.46 L120.85,136.73 L119.22,137.87 L117.59,138.9 L115.97,139.85 L114.34,140.72 L112.71,141.52 L111.09,142.27 L109.46,142.97 L107.83,143.63 L106.21,144.26 L104.58,144.85 L102.95,145.42 L101.33,145.96 L99.7,146.49 L98.07,146.99 L96.45,147.48 L94.82,147.95 L93.19,148.41 L91.57,148.85 L89.94,149.29 L88.31,149.72 L86.69,150.13 L85.06,150.55 L83.43,150.95 L81.81,151.35 L80.18,151.74 L78.55,152.13 L76.93,152.51 L75.3,152.89 L73.67,153.26 L72.05,153.64 L70.42,154.01 L68.79,154.38 L67.17,154.74 L65.54,155.11 L63.91,155.47 L62.29,155.83 L60.66,156.2 L59.03,156.56 L57.41,156.92 L55.78,157.28 L54.15,157.64 L52.53,158.01 L50.9,158.37 L50.9,158.37" fill="none" stroke="#7d0d12" stroke-width="1.6" stroke-linejoin="round" stroke-linecap="round"/>
<line x1="38.7" y1="92.5" x2="258.7" y2="92.5" stroke="#3a3a3a" stroke-width="1.2" stroke-dasharray="6.2 2.9"/>
<line x1="148.8" y1="9.6" x2="148.8" y2="175" stroke="#5a5a5a" stroke-width="1.4" stroke-dasharray="6 3.1"/>
<path d="M38.7,9.6 H258.7 V175 H38.7 Z" fill="none" stroke="#383838" stroke-width="1.2"/>
<line x1="50.9" y1="175" x2="50.9" y2="171.8" stroke="#383838" stroke-width="1.1"/>
<text transform="translate(50.9,189.9) scale(0.91,1)" font-size="10.6" text-anchor="middle" fill="#1e1e1e">-40</text>
<line x1="99.7" y1="175" x2="99.7" y2="171.8" stroke="#383838" stroke-width="1.1"/>
<text transform="translate(99.7,189.9) scale(0.91,1)" font-size="10.6" text-anchor="middle" fill="#1e1e1e">-20</text>
<line x1="148.5" y1="175" x2="148.5" y2="171.8" stroke="#383838" stroke-width="1.1"/>
<text transform="translate(148.5,189.9) scale(0.91,1)" font-size="10.6" text-anchor="middle" fill="#1e1e1e">0</text>
<line x1="197.3" y1="175" x2="197.3" y2="171.8" stroke="#383838" stroke-width="1.1"/>
<text transform="translate(197.3,189.9) scale(0.91,1)" font-size="10.6" text-anchor="middle" fill="#1e1e1e">20</text>
<line x1="246.1" y1="175" x2="246.1" y2="171.8" stroke="#383838" stroke-width="1.1"/>
<text transform="translate(246.1,189.9) scale(0.91,1)" font-size="10.6" text-anchor="middle" fill="#1e1e1e">40</text>
<line x1="38.7" y1="175" x2="41.9" y2="175" stroke="#383838" stroke-width="1.1"/>
<text transform="translate(35,178.6) scale(0.91,1)" font-size="10.6" text-anchor="end" fill="#1e1e1e">-30</text>
<line x1="38.7" y1="147.5" x2="41.9" y2="147.5" stroke="#383838" stroke-width="1.1"/>
<text transform="translate(35,151.1) scale(0.91,1)" font-size="10.6" text-anchor="end" fill="#1e1e1e">-20</text>
<line x1="38.7" y1="120" x2="41.9" y2="120" stroke="#383838" stroke-width="1.1"/>
<text transform="translate(35,123.6) scale(0.91,1)" font-size="10.6" text-anchor="end" fill="#1e1e1e">-10</text>
<line x1="38.7" y1="92.5" x2="41.9" y2="92.5" stroke="#383838" stroke-width="1.1"/>
<text transform="translate(35,96.1) scale(0.91,1)" font-size="10.6" text-anchor="end" fill="#1e1e1e">0</text>
<line x1="38.7" y1="65" x2="41.9" y2="65" stroke="#383838" stroke-width="1.1"/>
<text transform="translate(35,68.6) scale(0.91,1)" font-size="10.6" text-anchor="end" fill="#1e1e1e">10</text>
<line x1="38.7" y1="37.5" x2="41.9" y2="37.5" stroke="#383838" stroke-width="1.1"/>
<text transform="translate(35,41.1) scale(0.91,1)" font-size="10.6" text-anchor="end" fill="#1e1e1e">20</text>
<line x1="38.7" y1="10" x2="41.9" y2="10" stroke="#383838" stroke-width="1.1"/>
<text transform="translate(35,13.6) scale(0.91,1)" font-size="10.6" text-anchor="end" fill="#1e1e1e">30</text>
<text transform="translate(95,202.8) scale(0.96,1)" font-size="12.0" text-anchor="start" fill="#1e1e1e">Electric field (kV/cm)</text>
<text transform="translate(15.4,152.4) rotate(-90)" font-size="11.5" text-anchor="start" fill="#1e1e1e">Polarization (µC/cm<tspan font-size="7.2" dy="-6">2</tspan><tspan dy="6">)</tspan></text>
<text transform="translate(44.4,25.7) scale(0.92,1)" font-size="12.4" text-anchor="start" fill="#1e1e1e">(a)</text>
<line x1="184.3" y1="102.3" x2="207.6" y2="102.3" stroke="#7d0d12" stroke-width="1.7"/>
<text transform="translate(212.6,106) scale(0.83,1)" font-size="10.2" text-anchor="start" fill="#1e1e1e" letter-spacing="0.5"><tspan font-style="italic">x</tspan> = 0.04</text>
<line x1="184.3" y1="112.9" x2="207.6" y2="112.9" stroke="#ff8215" stroke-width="1.7"/>
<text transform="translate(212.6,116.6) scale(0.83,1)" font-size="10.2" text-anchor="start" fill="#1e1e1e" letter-spacing="0.5"><tspan font-style="italic">x</tspan> = 0.06</text>
<line x1="184.3" y1="123.7" x2="207.6" y2="123.7" stroke="#c4c40a" stroke-width="1.7"/>
<text transform="translate(212.6,127.4) scale(0.83,1)" font-size="10.2" text-anchor="start" fill="#1e1e1e" letter-spacing="0.5"><tspan font-style="italic">x</tspan> = 0.08</text>
<line x1="184.3" y1="134.6" x2="207.6" y2="134.6" stroke="#16901a" stroke-width="1.7"/>
<text transform="translate(212.6,138.3) scale(0.83,1)" font-size="10.2" text-anchor="start" fill="#1e1e1e" letter-spacing="0.5"><tspan font-style="italic">x</tspan> = 0.10</text>
<line x1="184.3" y1="145.6" x2="207.6" y2="145.6" stroke="#15908f" stroke-width="1.7"/>
<text transform="translate(212.6,149.3) scale(0.83,1)" font-size="10.2" text-anchor="start" fill="#1e1e1e" letter-spacing="0.5"><tspan font-style="italic">x</tspan> = 0.12</text>
<line x1="184.3" y1="156.4" x2="207.6" y2="156.4" stroke="#15409a" stroke-width="1.7"/>
<text transform="translate(212.6,160.1) scale(0.83,1)" font-size="10.2" text-anchor="start" fill="#1e1e1e" letter-spacing="0.5"><tspan font-style="italic">x</tspan> = 0.14</text>
<line x1="184.3" y1="167.2" x2="207.6" y2="167.2" stroke="#8f1697" stroke-width="1.7"/>
<text transform="translate(212.6,170.9) scale(0.83,1)" font-size="10.2" text-anchor="start" fill="#1e1e1e" letter-spacing="0.5"><tspan font-style="italic">x</tspan> = 0.16</text>
<path d="M311.5,80.91 L335.95,79.88 L360.4,88.65 L384.85,96.9 L409.3,105.68 L433.75,113.93 L458.2,120.12 L482.65,121.67 L507.1,122.19" fill="none" stroke="#11871a" stroke-width="1.6" stroke-linejoin="round" stroke-linecap="round"/>
<rect x="308.6" y="78.01" width="5.8" height="5.8" fill="#11871a"/>
<rect x="333.05" y="76.98" width="5.8" height="5.8" fill="#11871a"/>
<rect x="357.5" y="85.75" width="5.8" height="5.8" fill="#11871a"/>
<rect x="381.95" y="94" width="5.8" height="5.8" fill="#11871a"/>
<rect x="406.4" y="102.78" width="5.8" height="5.8" fill="#11871a"/>
<rect x="430.85" y="111.03" width="5.8" height="5.8" fill="#11871a"/>
<rect x="455.3" y="117.22" width="5.8" height="5.8" fill="#11871a"/>
<rect x="479.75" y="118.77" width="5.8" height="5.8" fill="#11871a"/>
<rect x="504.2" y="119.29" width="5.8" height="5.8" fill="#11871a"/>
<path d="M311.5,33.44 L335.95,36.53 L360.4,41.69 L384.85,50.98 L409.3,60.27 L433.75,72.14 L458.2,81.42 L482.65,85.55 L507.1,96.9" fill="none" stroke="#12128a" stroke-width="1.6" stroke-linejoin="round" stroke-linecap="round"/>
<path d="M311.5,29.64 L315.3,33.44 L311.5,37.24 L307.7,33.44 Z" fill="#12128a"/>
<path d="M335.95,32.73 L339.75,36.53 L335.95,40.33 L332.15,36.53 Z" fill="#12128a"/>
<path d="M360.4,37.89 L364.2,41.69 L360.4,45.49 L356.6,41.69 Z" fill="#12128a"/>
<path d="M384.85,47.18 L388.65,50.98 L384.85,54.78 L381.05,50.98 Z" fill="#12128a"/>
<path d="M409.3,56.47 L413.1,60.27 L409.3,64.07 L405.5,60.27 Z" fill="#12128a"/>
<path d="M433.75,68.34 L437.55,72.14 L433.75,75.94 L429.95,72.14 Z" fill="#12128a"/>
<path d="M458.2,77.62 L462,81.42 L458.2,85.22 L454.4,81.42 Z" fill="#12128a"/>
<path d="M482.65,81.75 L486.45,85.55 L482.65,89.35 L478.85,85.55 Z" fill="#12128a"/>
<path d="M507.1,93.1 L510.9,96.9 L507.1,100.7 L503.3,96.9 Z" fill="#12128a"/>
<path d="M311.5,105.68 L335.95,110.84 L360.4,119.09 L384.85,128.9 L409.3,135.09 L433.75,151.6 L458.2,158.1 L482.65,161.4 L507.1,163.47" fill="none" stroke="#ff3d0f" stroke-width="1.6" stroke-linejoin="round" stroke-linecap="round"/>
<path d="M311.5,101.88 L315.3,105.68 L311.5,109.48 L307.7,105.68 Z" fill="#ff3d0f"/>
<path d="M335.95,107.04 L339.75,110.84 L335.95,114.64 L332.15,110.84 Z" fill="#ff3d0f"/>
<path d="M360.4,115.29 L364.2,119.09 L360.4,122.89 L356.6,119.09 Z" fill="#ff3d0f"/>
<path d="M384.85,125.1 L388.65,128.9 L384.85,132.7 L381.05,128.9 Z" fill="#ff3d0f"/>
<path d="M409.3,131.29 L413.1,135.09 L409.3,138.89 L405.5,135.09 Z" fill="#ff3d0f"/>
<path d="M433.75,147.8 L437.55,151.6 L433.75,155.4 L429.95,151.6 Z" fill="#ff3d0f"/>
<path d="M458.2,154.3 L462,158.1 L458.2,161.9 L454.4,158.1 Z" fill="#ff3d0f"/>
<path d="M482.65,157.6 L486.45,161.4 L482.65,165.2 L478.85,161.4 Z" fill="#ff3d0f"/>
<path d="M507.1,159.67 L510.9,163.47 L507.1,167.27 L503.3,163.47 Z" fill="#ff3d0f"/>
<rect x="385.2" y="9.6" width="49.4" height="165.4" fill="#b4b4b4" fill-opacity="0.38"/>
<path d="M299.6,9.6 H518.8 M299.6,9.6 V175.0 H518.8" fill="none" stroke="#383838" stroke-width="1.1"/>
<line x1="518.8" y1="9.1" x2="518.8" y2="175.5" stroke="#3a3aa0" stroke-width="1.2"/>
<line x1="311.5" y1="175" x2="311.5" y2="171.8" stroke="#383838" stroke-width="1.1"/>
<text transform="translate(311.5,189.7) scale(0.91,1)" font-size="10.6" text-anchor="middle" fill="#1e1e1e">0.00</text>
<line x1="335.95" y1="175" x2="335.95" y2="171.8" stroke="#383838" stroke-width="1.1"/>
<text transform="translate(335.95,189.7) scale(0.91,1)" font-size="10.6" text-anchor="middle" fill="#1e1e1e">0.02</text>
<line x1="360.4" y1="175" x2="360.4" y2="171.8" stroke="#383838" stroke-width="1.1"/>
<text transform="translate(360.4,189.7) scale(0.91,1)" font-size="10.6" text-anchor="middle" fill="#1e1e1e">0.04</text>
<line x1="384.85" y1="175" x2="384.85" y2="171.8" stroke="#383838" stroke-width="1.1"/>
<text transform="translate(384.85,189.7) scale(0.91,1)" font-size="10.6" text-anchor="middle" fill="#1e1e1e">0.06</text>
<line x1="409.3" y1="175" x2="409.3" y2="171.8" stroke="#383838" stroke-width="1.1"/>
<text transform="translate(409.3,189.7) scale(0.91,1)" font-size="10.6" text-anchor="middle" fill="#1e1e1e">0.08</text>
<line x1="433.75" y1="175" x2="433.75" y2="171.8" stroke="#383838" stroke-width="1.1"/>
<text transform="translate(433.75,189.7) scale(0.91,1)" font-size="10.6" text-anchor="middle" fill="#1e1e1e">0.10</text>
<line x1="458.2" y1="175" x2="458.2" y2="171.8" stroke="#383838" stroke-width="1.1"/>
<text transform="translate(458.2,189.7) scale(0.91,1)" font-size="10.6" text-anchor="middle" fill="#1e1e1e">0.12</text>
<line x1="482.65" y1="175" x2="482.65" y2="171.8" stroke="#383838" stroke-width="1.1"/>
<text transform="translate(482.65,189.7) scale(0.91,1)" font-size="10.6" text-anchor="middle" fill="#1e1e1e">0.14</text>
<line x1="507.1" y1="175" x2="507.1" y2="171.8" stroke="#383838" stroke-width="1.1"/>
<text transform="translate(507.1,189.7) scale(0.91,1)" font-size="10.6" text-anchor="middle" fill="#1e1e1e">0.16</text>
<line x1="299.6" y1="164.5" x2="302.8" y2="164.5" stroke="#383838" stroke-width="1.1"/>
<text transform="translate(295.4,168.1) scale(0.91,1)" font-size="10.6" text-anchor="end" fill="#1e1e1e">0</text>
<line x1="299.6" y1="138.7" x2="302.8" y2="138.7" stroke="#383838" stroke-width="1.1"/>
<text transform="translate(295.4,142.3) scale(0.91,1)" font-size="10.6" text-anchor="end" fill="#1e1e1e">5</text>
<line x1="299.6" y1="112.9" x2="302.8" y2="112.9" stroke="#383838" stroke-width="1.1"/>
<text transform="translate(295.4,116.5) scale(0.91,1)" font-size="10.6" text-anchor="end" fill="#1e1e1e">10</text>
<line x1="299.6" y1="87.1" x2="302.8" y2="87.1" stroke="#383838" stroke-width="1.1"/>
<text transform="translate(295.4,90.7) scale(0.91,1)" font-size="10.6" text-anchor="end" fill="#1e1e1e">15</text>
<line x1="299.6" y1="61.3" x2="302.8" y2="61.3" stroke="#383838" stroke-width="1.1"/>
<text transform="translate(295.4,64.9) scale(0.91,1)" font-size="10.6" text-anchor="end" fill="#1e1e1e">20</text>
<line x1="299.6" y1="35.5" x2="302.8" y2="35.5" stroke="#383838" stroke-width="1.1"/>
<text transform="translate(295.4,39.1) scale(0.91,1)" font-size="10.6" text-anchor="end" fill="#1e1e1e">25</text>
<line x1="299.6" y1="9.7" x2="302.8" y2="9.7" stroke="#383838" stroke-width="1.1"/>
<text transform="translate(295.4,13.3) scale(0.91,1)" font-size="10.6" text-anchor="end" fill="#1e1e1e">30</text>
<line x1="518.8" y1="174.96" x2="515.6" y2="174.96" stroke="#3a3aa0" stroke-width="1.1"/>
<text transform="translate(523.3,178.56) scale(0.91,1)" font-size="10.6" text-anchor="start" fill="#2d2db0">-2</text>
<line x1="518.8" y1="133.6" x2="515.6" y2="133.6" stroke="#3a3aa0" stroke-width="1.1"/>
<text transform="translate(523.3,137.2) scale(0.91,1)" font-size="10.6" text-anchor="start" fill="#2d2db0">0</text>
<line x1="518.8" y1="92.24" x2="515.6" y2="92.24" stroke="#3a3aa0" stroke-width="1.1"/>
<text transform="translate(523.3,95.84) scale(0.91,1)" font-size="10.6" text-anchor="start" fill="#2d2db0">2</text>
<line x1="518.8" y1="50.88" x2="515.6" y2="50.88" stroke="#3a3aa0" stroke-width="1.1"/>
<text transform="translate(523.3,54.48) scale(0.91,1)" font-size="10.6" text-anchor="start" fill="#2d2db0">4</text>
<line x1="518.8" y1="9.52" x2="515.6" y2="9.52" stroke="#3a3aa0" stroke-width="1.1"/>
<text transform="translate(523.3,13.12) scale(0.91,1)" font-size="10.6" text-anchor="start" fill="#2d2db0">6</text>
<text transform="translate(412.3,203.8) scale(0.96,1)" font-size="12.0" text-anchor="middle" fill="#1e1e1e"><tspan font-style="italic">x</tspan> content</text>
<text transform="translate(279.6,151.8) rotate(-90)" font-size="11.5" text-anchor="start" fill="#1e1e1e">Polarization (µC/cm<tspan font-size="7.2" dy="-6">2</tspan><tspan dy="6">)</tspan></text>
<text transform="translate(544,148.2) rotate(-90)" font-size="11.5" text-anchor="start" fill="#2d2db0">Coercive field (kV/cm)</text>
<text transform="translate(306.2,25.7) scale(0.92,1)" font-size="12.4" text-anchor="start" fill="#1e1e1e">(b)</text>
<line x1="459.4" y1="31" x2="481.7" y2="31" stroke="#11871a" stroke-width="1.6"/>
<rect x="467.7" y="28.1" width="5.8" height="5.8" fill="#11871a"/>
<text transform="translate(486.6,34.8) scale(0.92,1)" font-size="10.8" text-anchor="start" fill="#1e1e1e" font-style="italic">E<tspan font-size="5.8" dy="3" fill="#555">c</tspan></text>
<line x1="459.4" y1="44.7" x2="481.7" y2="44.7" stroke="#12128a" stroke-width="1.6"/>
<path d="M470.6,40.9 L474.4,44.7 L470.6,48.5 L466.8,44.7 Z" fill="#12128a"/>
<text transform="translate(486.6,48.5) scale(0.92,1)" font-size="10.8" text-anchor="start" fill="#1e1e1e" font-style="italic">P<tspan font-size="5.8" dy="3" fill="#555">m</tspan></text>
<line x1="459.4" y1="58.6" x2="481.7" y2="58.6" stroke="#ff3d0f" stroke-width="1.6"/>
<path d="M470.6,54.8 L474.4,58.6 L470.6,62.4 L466.8,58.6 Z" fill="#ff3d0f"/>
<text transform="translate(486.6,62.4) scale(0.92,1)" font-size="10.8" text-anchor="start" fill="#1e1e1e" font-style="italic">P<tspan font-size="5.8" dy="3" fill="#555">r</tspan></text>
<path d="M50.9,346.91 L52.12,347.17 L53.34,347.42 L54.56,347.67 L55.78,347.92 L57,348.17 L58.22,348.42 L59.44,348.67 L60.66,348.92 L61.88,349.17 L63.1,349.43 L64.32,349.68 L65.54,349.93 L66.76,350.18 L67.98,350.43 L69.2,350.68 L70.42,350.93 L71.64,351.18 L72.86,351.43 L74.08,351.68 L75.3,351.94 L76.52,352.19 L77.74,352.44 L78.96,352.69 L80.18,352.94 L81.4,353.19 L82.62,353.44 L83.84,353.69 L85.06,353.94 L86.28,354.2 L87.5,354.45 L88.72,354.7 L89.94,354.95 L91.16,355.2 L92.38,355.45 L93.6,355.7 L94.82,355.95 L96.04,356.2 L97.26,356.46 L98.48,356.71 L99.7,356.96 L100.92,357.21 L102.14,357.46 L103.36,357.71 L104.58,357.96 L105.8,358.21 L107.02,358.46 L108.24,358.71 L109.46,358.97 L110.68,359.22 L111.9,359.47 L113.12,359.72 L114.34,359.97 L115.56,360.22 L116.78,360.47 L118,360.72 L119.22,360.97 L120.44,361.23 L121.66,361.48 L122.88,361.73 L124.1,361.98 L124.59,362.08 L125.08,362.18 L125.32,362.23 L125.56,362.28 L126.05,362.38 L126.54,362.48 L127.03,362.58 L127.52,362.68 L127.76,362.73 L128,362.78 L128.49,362.88 L128.98,362.98 L129.47,363.08 L129.96,363.18 L130.2,363.23 L130.44,363.28 L130.93,363.38 L131.42,363.49 L131.91,363.59 L132.4,363.69 L132.64,363.74 L132.88,363.79 L133.37,363.89 L133.86,363.99 L134.35,364.09 L134.84,364.19 L135.08,364.24 L135.32,364.29 L135.81,364.39 L136.3,364.49 L136.79,364.59 L137.28,364.69 L137.52,364.74 L137.76,364.79 L138.25,364.89 L138.74,364.99 L139.23,365.09 L139.72,365.19 L139.96,365.24 L140.2,365.29 L140.69,365.39 L141.18,365.49 L141.67,365.59 L142.16,365.69 L142.4,365.74 L142.64,365.79 L143.13,365.9 L143.62,366 L144.11,366.1 L144.6,366.2 L144.84,366.25 L145.08,366.3 L145.57,366.4 L146.06,366.5 L146.55,366.6 L147.04,366.7 L147.28,366.75 L147.52,366.8 L148.01,366.9 L148.5,367 L148.99,367.39 L149.48,367.63 L149.72,367.69 L149.96,367.71 L150.45,367.7 L150.94,367.67 L151.43,367.63 L151.92,367.57 L152.16,367.54 L152.4,367.51 L152.89,367.44 L153.38,367.37 L153.87,367.3 L154.36,367.23 L154.6,367.19 L154.84,367.15 L155.33,367.07 L155.82,366.99 L156.31,366.92 L156.8,366.84 L157.04,366.8 L157.28,366.76 L157.77,366.68 L158.26,366.6 L158.75,366.51 L159.24,366.43 L159.48,366.39 L159.72,366.35 L160.21,366.27 L160.7,366.19 L161.19,366.11 L161.68,366.02 L161.92,365.98 L162.16,365.94 L162.65,365.86 L163.14,365.78 L163.63,365.69 L164.12,365.61 L164.36,365.57 L164.6,365.53 L165.09,365.44 L165.58,365.36 L166.07,365.28 L166.56,365.19 L166.8,365.15 L167.04,365.11 L167.53,365.02 L168.02,364.94 L168.51,364.86 L169,364.77 L169.24,364.73 L169.48,364.69 L169.97,364.6 L170.46,364.52 L170.95,364.43 L171.44,364.35 L171.68,364.31 L171.92,364.26 L172.41,364.18 L172.9,364.09 L174.12,363.88 L175.34,363.67 L176.56,363.45 L177.78,363.24 L179,363.02 L180.22,362.8 L181.44,362.59 L182.66,362.37 L183.88,362.15 L185.1,361.93 L186.32,361.71 L187.54,361.49 L188.76,361.27 L189.98,361.05 L191.2,360.83 L192.42,360.61 L193.64,360.38 L194.86,360.16 L196.08,359.94 L197.3,359.71 L198.52,359.48 L199.74,359.26 L200.96,359.03 L202.18,358.81 L203.4,358.58 L204.62,358.35 L205.84,358.12 L207.06,357.89 L208.28,357.66 L209.5,357.43 L210.72,357.2 L211.94,356.97 L213.16,356.73 L214.38,356.5 L215.6,356.27 L216.82,356.03 L218.04,355.8 L219.26,355.56 L220.48,355.33 L221.7,355.09 L222.92,354.85 L224.14,354.61 L225.36,354.38 L226.58,354.14 L227.8,353.9 L229.02,353.66 L230.24,353.42 L231.46,353.17 L232.68,352.93 L233.9,352.69 L235.12,352.44 L236.34,352.2 L237.56,351.96 L238.78,351.71 L240,351.46 L241.22,351.22 L242.44,350.97 L243.66,350.72 L244.88,350.47 L246.1,350.22" fill="none" stroke="#8f1697" stroke-width="1.45" stroke-linejoin="round" stroke-linecap="round"/>
<path d="M50.9,346.91 L52.12,347.2 L53.34,347.48 L54.56,347.76 L55.78,348.04 L57,348.32 L58.22,348.6 L59.44,348.89 L60.66,349.17 L61.88,349.45 L63.1,349.72 L64.32,350 L65.54,350.28 L66.76,350.56 L67.98,350.84 L69.2,351.12 L70.42,351.39 L71.64,351.67 L72.86,351.95 L74.08,352.22 L75.3,352.5 L76.52,352.77 L77.74,353.05 L78.96,353.32 L80.18,353.6 L81.4,353.87 L82.62,354.15 L83.84,354.42 L85.06,354.69 L86.28,354.96 L87.5,355.24 L88.72,355.51 L89.94,355.78 L91.16,356.05 L92.38,356.32 L93.6,356.59 L94.82,356.86 L96.04,357.13 L97.26,357.4 L98.48,357.67 L99.7,357.94 L100.92,358.21 L102.14,358.47 L103.36,358.74 L104.58,359.01 L105.8,359.28 L107.02,359.54 L108.24,359.81 L109.46,360.07 L110.68,360.34 L111.9,360.6 L113.12,360.87 L114.34,361.13 L115.56,361.4 L116.78,361.66 L118,361.92 L119.22,362.19 L120.44,362.45 L121.66,362.71 L122.88,362.97 L124.1,363.23 L124.59,363.34 L125.08,363.44 L125.32,363.49 L125.56,363.55 L126.05,363.65 L126.54,363.75 L127.03,363.86 L127.52,363.96 L127.76,364.01 L128,364.07 L128.49,364.17 L128.98,364.27 L129.47,364.38 L129.96,364.48 L130.2,364.53 L130.44,364.58 L130.93,364.69 L131.42,364.79 L131.91,364.89 L132.4,365 L132.64,365.05 L132.88,365.1 L133.37,365.2 L133.86,365.3 L134.35,365.41 L134.84,365.51 L135.08,365.56 L135.32,365.61 L135.81,365.71 L136.3,365.81 L136.79,365.92 L137.28,366.02 L137.52,366.07 L137.76,366.12 L138.25,366.22 L138.74,366.32 L139.23,366.42 L139.72,366.52 L139.96,366.57 L140.2,366.62 L140.69,366.72 L141.18,366.82 L141.67,366.91 L142.16,367.01 L142.4,367.06 L142.64,367.11 L143.13,367.2 L143.62,367.29 L144.11,367.38 L144.6,367.46 L144.84,367.5 L145.08,367.54 L145.57,367.61 L146.06,367.66 L146.55,367.7 L147.04,367.71 L147.28,367.69 L147.52,367.63 L148.01,367.39 L148.5,367 L148.99,366.92 L149.48,366.84 L149.72,366.8 L149.96,366.76 L150.45,366.68 L150.94,366.6 L151.43,366.52 L151.92,366.44 L152.16,366.4 L152.4,366.36 L152.89,366.28 L153.38,366.2 L153.87,366.12 L154.36,366.04 L154.6,366 L154.84,365.96 L155.33,365.88 L155.82,365.8 L156.31,365.72 L156.8,365.64 L157.04,365.6 L157.28,365.56 L157.77,365.48 L158.26,365.4 L158.75,365.32 L159.24,365.24 L159.48,365.2 L159.72,365.15 L160.21,365.07 L160.7,364.99 L161.19,364.91 L161.68,364.83 L161.92,364.79 L162.16,364.75 L162.65,364.67 L163.14,364.59 L163.63,364.51 L164.12,364.43 L164.36,364.39 L164.6,364.35 L165.09,364.26 L165.58,364.18 L166.07,364.1 L166.56,364.02 L166.8,363.98 L167.04,363.94 L167.53,363.86 L168.02,363.78 L168.51,363.7 L169,363.61 L169.24,363.57 L169.48,363.53 L169.97,363.45 L170.46,363.37 L170.95,363.29 L171.44,363.21 L171.68,363.17 L171.92,363.13 L172.41,363.04 L172.9,362.96 L174.12,362.76 L175.34,362.55 L176.56,362.35 L177.78,362.14 L179,361.94 L180.22,361.73 L181.44,361.52 L182.66,361.32 L183.88,361.11 L185.1,360.9 L186.32,360.7 L187.54,360.49 L188.76,360.28 L189.98,360.07 L191.2,359.87 L192.42,359.66 L193.64,359.45 L194.86,359.24 L196.08,359.03 L197.3,358.82 L198.52,358.61 L199.74,358.4 L200.96,358.19 L202.18,357.98 L203.4,357.77 L204.62,357.56 L205.84,357.35 L207.06,357.14 L208.28,356.92 L209.5,356.71 L210.72,356.5 L211.94,356.29 L213.16,356.07 L214.38,355.86 L215.6,355.65 L216.82,355.43 L218.04,355.22 L219.26,355 L220.48,354.79 L221.7,354.58 L222.92,354.36 L224.14,354.15 L225.36,353.93 L226.58,353.71 L227.8,353.5 L229.02,353.28 L230.24,353.06 L231.46,352.85 L232.68,352.63 L233.9,352.41 L235.12,352.19 L236.34,351.98 L237.56,351.76 L238.78,351.54 L240,351.32 L241.22,351.1 L242.44,350.88 L243.66,350.66 L244.88,350.44 L246.1,350.22" fill="none" stroke="#8f1697" stroke-width="1.45" stroke-linejoin="round" stroke-linecap="round"/>
<path d="M50.9,333.68 L52.12,333.86 L53.34,334.05 L54.56,334.24 L55.78,334.43 L57,334.62 L58.22,334.82 L59.44,335.02 L60.66,335.23 L61.88,335.44 L63.1,335.66 L64.32,335.87 L65.54,336.1 L66.76,336.32 L67.98,336.55 L69.2,336.79 L70.42,337.03 L71.64,337.27 L72.86,337.52 L74.08,337.78 L75.3,338.04 L76.52,338.3 L77.74,338.57 L78.96,338.84 L80.18,339.12 L81.4,339.4 L82.62,339.69 L83.84,339.99 L85.06,340.29 L86.28,340.6 L87.5,340.91 L88.72,341.23 L89.94,341.55 L91.16,341.88 L92.38,342.22 L93.6,342.56 L94.82,342.91 L96.04,343.26 L97.26,343.63 L98.48,343.99 L99.7,344.37 L100.92,344.75 L102.14,345.15 L103.36,345.54 L104.58,345.95 L105.8,346.36 L107.02,346.78 L108.24,347.21 L109.46,347.65 L110.68,348.09 L111.9,348.55 L113.12,349.01 L114.34,349.48 L115.56,349.96 L116.78,350.45 L118,350.95 L119.22,351.46 L120.44,351.98 L121.66,352.5 L122.88,353.04 L124.1,353.59 L124.59,353.81 L125.08,354.03 L125.32,354.15 L125.56,354.26 L126.05,354.49 L126.54,354.71 L127.03,354.95 L127.52,355.18 L127.76,355.29 L128,355.41 L128.49,355.65 L128.98,355.88 L129.47,356.12 L129.96,356.36 L130.2,356.49 L130.44,356.61 L130.93,356.85 L131.42,357.1 L131.91,357.35 L132.4,357.6 L132.64,357.72 L132.88,357.85 L133.37,358.1 L133.86,358.36 L134.35,358.62 L134.84,358.88 L135.08,359.01 L135.32,359.14 L135.81,359.4 L136.3,359.67 L136.79,359.94 L137.28,360.2 L137.52,360.34 L137.76,360.48 L138.25,360.75 L138.74,361.03 L139.23,361.3 L139.72,361.58 L139.96,361.72 L140.2,361.87 L140.69,362.15 L141.18,362.44 L141.67,362.73 L142.16,363.02 L142.4,363.16 L142.64,363.31 L143.13,363.6 L143.62,363.9 L144.11,364.2 L144.6,364.5 L144.84,364.65 L145.08,364.81 L145.57,365.11 L146.06,365.42 L146.55,365.73 L147.04,366.05 L147.28,366.2 L147.52,366.36 L148.01,366.68 L148.5,367 L148.99,367.52 L149.48,367.89 L149.72,368.02 L149.96,368.11 L150.45,368.18 L150.94,368.15 L151.43,368.08 L151.92,367.97 L152.16,367.9 L152.4,367.83 L152.89,367.67 L153.38,367.5 L153.87,367.32 L154.36,367.13 L154.6,367.04 L154.84,366.94 L155.33,366.75 L155.82,366.56 L156.31,366.36 L156.8,366.17 L157.04,366.07 L157.28,365.97 L157.77,365.78 L158.26,365.58 L158.75,365.38 L159.24,365.19 L159.48,365.09 L159.72,364.99 L160.21,364.79 L160.7,364.6 L161.19,364.4 L161.68,364.21 L161.92,364.11 L162.16,364.01 L162.65,363.82 L163.14,363.62 L163.63,363.43 L164.12,363.24 L164.36,363.14 L164.6,363.05 L165.09,362.86 L165.58,362.67 L166.07,362.48 L166.56,362.29 L166.8,362.19 L167.04,362.1 L167.53,361.91 L168.02,361.72 L168.51,361.53 L169,361.35 L169.24,361.25 L169.48,361.16 L169.97,360.98 L170.46,360.79 L170.95,360.61 L171.44,360.42 L171.68,360.33 L171.92,360.24 L172.41,360.06 L172.9,359.88 L174.12,359.43 L175.34,358.98 L176.56,358.54 L177.78,358.1 L179,357.66 L180.22,357.23 L181.44,356.8 L182.66,356.38 L183.88,355.96 L185.1,355.54 L186.32,355.13 L187.54,354.72 L188.76,354.32 L189.98,353.91 L191.2,353.52 L192.42,353.12 L193.64,352.73 L194.86,352.34 L196.08,351.96 L197.3,351.58 L198.52,351.2 L199.74,350.83 L200.96,350.46 L202.18,350.09 L203.4,349.73 L204.62,349.37 L205.84,349.01 L207.06,348.66 L208.28,348.31 L209.5,347.96 L210.72,347.62 L211.94,347.27 L213.16,346.94 L214.38,346.6 L215.6,346.27 L216.82,345.94 L218.04,345.61 L219.26,345.29 L220.48,344.97 L221.7,344.65 L222.92,344.34 L224.14,344.03 L225.36,343.72 L226.58,343.41 L227.8,343.11 L229.02,342.81 L230.24,342.51 L231.46,342.22 L232.68,341.93 L233.9,341.64 L235.12,341.35 L236.34,341.06 L237.56,340.78 L238.78,340.5 L240,340.23 L241.22,339.95 L242.44,339.68 L243.66,339.41 L244.88,339.14 L246.1,338.88" fill="none" stroke="#15409a" stroke-width="1.45" stroke-linejoin="round" stroke-linecap="round"/>
<path d="M50.9,333.68 L52.12,333.94 L53.34,334.21 L54.56,334.48 L55.78,334.75 L57,335.03 L58.22,335.31 L59.44,335.6 L60.66,335.88 L61.88,336.18 L63.1,336.47 L64.32,336.77 L65.54,337.07 L66.76,337.38 L67.98,337.69 L69.2,338.01 L70.42,338.33 L71.64,338.65 L72.86,338.98 L74.08,339.31 L75.3,339.65 L76.52,339.99 L77.74,340.33 L78.96,340.68 L80.18,341.04 L81.4,341.4 L82.62,341.76 L83.84,342.13 L85.06,342.5 L86.28,342.88 L87.5,343.27 L88.72,343.65 L89.94,344.05 L91.16,344.45 L92.38,344.85 L93.6,345.26 L94.82,345.67 L96.04,346.09 L97.26,346.52 L98.48,346.95 L99.7,347.39 L100.92,347.83 L102.14,348.28 L103.36,348.73 L104.58,349.19 L105.8,349.65 L107.02,350.13 L108.24,350.6 L109.46,351.09 L110.68,351.58 L111.9,352.07 L113.12,352.58 L114.34,353.09 L115.56,353.6 L116.78,354.13 L118,354.66 L119.22,355.19 L120.44,355.74 L121.66,356.29 L122.88,356.84 L124.1,357.41 L124.59,357.64 L125.08,357.86 L125.32,357.98 L125.56,358.09 L126.05,358.33 L126.54,358.56 L127.03,358.79 L127.52,359.03 L127.76,359.14 L128,359.26 L128.49,359.5 L128.98,359.74 L129.47,359.98 L129.96,360.22 L130.2,360.34 L130.44,360.46 L130.93,360.7 L131.42,360.95 L131.91,361.19 L132.4,361.44 L132.64,361.56 L132.88,361.68 L133.37,361.93 L133.86,362.18 L134.35,362.43 L134.84,362.68 L135.08,362.81 L135.32,362.94 L135.81,363.19 L136.3,363.44 L136.79,363.7 L137.28,363.96 L137.52,364.08 L137.76,364.21 L138.25,364.47 L138.74,364.73 L139.23,364.99 L139.72,365.25 L139.96,365.38 L140.2,365.51 L140.69,365.76 L141.18,366.02 L141.67,366.28 L142.16,366.53 L142.4,366.66 L142.64,366.78 L143.13,367.03 L143.62,367.27 L144.11,367.49 L144.6,367.71 L144.84,367.8 L145.08,367.89 L145.57,368.05 L146.06,368.15 L146.55,368.18 L147.04,368.11 L147.28,368.02 L147.52,367.89 L148.01,367.52 L148.5,367 L148.99,366.78 L149.48,366.56 L149.72,366.45 L149.96,366.34 L150.45,366.12 L150.94,365.9 L151.43,365.69 L151.92,365.47 L152.16,365.36 L152.4,365.26 L152.89,365.04 L153.38,364.83 L153.87,364.62 L154.36,364.41 L154.6,364.3 L154.84,364.2 L155.33,363.99 L155.82,363.79 L156.31,363.58 L156.8,363.38 L157.04,363.27 L157.28,363.17 L157.77,362.97 L158.26,362.77 L158.75,362.57 L159.24,362.37 L159.48,362.27 L159.72,362.17 L160.21,361.97 L160.7,361.77 L161.19,361.58 L161.68,361.38 L161.92,361.29 L162.16,361.19 L162.65,361 L163.14,360.8 L163.63,360.61 L164.12,360.42 L164.36,360.33 L164.6,360.23 L165.09,360.05 L165.58,359.86 L166.07,359.67 L166.56,359.49 L166.8,359.39 L167.04,359.3 L167.53,359.12 L168.02,358.94 L168.51,358.75 L169,358.57 L169.24,358.48 L169.48,358.39 L169.97,358.22 L170.46,358.04 L170.95,357.86 L171.44,357.68 L171.68,357.6 L171.92,357.51 L172.41,357.33 L172.9,357.16 L174.12,356.73 L175.34,356.3 L176.56,355.88 L177.78,355.47 L179,355.06 L180.22,354.66 L181.44,354.26 L182.66,353.86 L183.88,353.47 L185.1,353.09 L186.32,352.71 L187.54,352.33 L188.76,351.96 L189.98,351.6 L191.2,351.24 L192.42,350.88 L193.64,350.53 L194.86,350.18 L196.08,349.84 L197.3,349.5 L198.52,349.16 L199.74,348.83 L200.96,348.5 L202.18,348.18 L203.4,347.86 L204.62,347.55 L205.84,347.24 L207.06,346.93 L208.28,346.63 L209.5,346.33 L210.72,346.03 L211.94,345.74 L213.16,345.45 L214.38,345.16 L215.6,344.88 L216.82,344.61 L218.04,344.33 L219.26,344.06 L220.48,343.79 L221.7,343.53 L222.92,343.27 L224.14,343.01 L225.36,342.75 L226.58,342.5 L227.8,342.26 L229.02,342.01 L230.24,341.77 L231.46,341.53 L232.68,341.29 L233.9,341.06 L235.12,340.83 L236.34,340.6 L237.56,340.38 L238.78,340.15 L240,339.94 L241.22,339.72 L242.44,339.51 L243.66,339.29 L244.88,339.09 L246.1,338.88" fill="none" stroke="#15409a" stroke-width="1.45" stroke-linejoin="round" stroke-linecap="round"/>
<path d="M50.9,317.38 L52.12,317.54 L53.34,317.7 L54.56,317.88 L55.78,318.05 L57,318.23 L58.22,318.42 L59.44,318.61 L60.66,318.81 L61.88,319.01 L63.1,319.22 L64.32,319.43 L65.54,319.66 L66.76,319.88 L67.98,320.12 L69.2,320.36 L70.42,320.61 L71.64,320.86 L72.86,321.13 L74.08,321.4 L75.3,321.67 L76.52,321.96 L77.74,322.26 L78.96,322.56 L80.18,322.87 L81.4,323.19 L82.62,323.52 L83.84,323.86 L85.06,324.22 L86.28,324.58 L87.5,324.95 L88.72,325.33 L89.94,325.72 L91.16,326.13 L92.38,326.54 L93.6,326.97 L94.82,327.41 L96.04,327.87 L97.26,328.33 L98.48,328.82 L99.7,329.31 L100.92,329.82 L102.14,330.34 L103.36,330.88 L104.58,331.44 L105.8,332.01 L107.02,332.6 L108.24,333.2 L109.46,333.83 L110.68,334.47 L111.9,335.13 L113.12,335.81 L114.34,336.51 L115.56,337.22 L116.78,337.96 L118,338.73 L119.22,339.51 L120.44,340.32 L121.66,341.15 L122.88,342 L124.1,342.88 L124.59,343.24 L125.08,343.6 L125.32,343.79 L125.56,343.97 L126.05,344.34 L126.54,344.72 L127.03,345.1 L127.52,345.48 L127.76,345.68 L128,345.87 L128.49,346.27 L128.98,346.66 L129.47,347.07 L129.96,347.47 L130.2,347.68 L130.44,347.89 L130.93,348.3 L131.42,348.73 L131.91,349.15 L132.4,349.58 L132.64,349.8 L132.88,350.02 L133.37,350.46 L133.86,350.91 L134.35,351.36 L134.84,351.82 L135.08,352.05 L135.32,352.28 L135.81,352.75 L136.3,353.22 L136.79,353.7 L137.28,354.18 L137.52,354.43 L137.76,354.67 L138.25,355.17 L138.74,355.67 L139.23,356.17 L139.72,356.69 L139.96,356.95 L140.2,357.21 L140.69,357.73 L141.18,358.26 L141.67,358.8 L142.16,359.34 L142.4,359.62 L142.64,359.89 L143.13,360.45 L143.62,361.01 L144.11,361.58 L144.6,362.15 L144.84,362.44 L145.08,362.73 L145.57,363.32 L146.06,363.92 L146.55,364.52 L147.04,365.13 L147.28,365.44 L147.52,365.75 L148.01,366.37 L148.5,367 L148.99,367.68 L149.48,368.21 L149.72,368.42 L149.96,368.59 L150.45,368.81 L150.94,368.89 L151.43,368.83 L151.92,368.66 L152.16,368.54 L152.4,368.4 L152.89,368.08 L153.38,367.73 L153.87,367.34 L154.36,366.94 L154.6,366.74 L154.84,366.53 L155.33,366.12 L155.82,365.7 L156.31,365.27 L156.8,364.85 L157.04,364.64 L157.28,364.43 L157.77,364.01 L158.26,363.59 L158.75,363.17 L159.24,362.76 L159.48,362.55 L159.72,362.34 L160.21,361.93 L160.7,361.53 L161.19,361.12 L161.68,360.72 L161.92,360.52 L162.16,360.32 L162.65,359.93 L163.14,359.54 L163.63,359.15 L164.12,358.76 L164.36,358.57 L164.6,358.38 L165.09,358 L165.58,357.63 L166.07,357.26 L166.56,356.89 L166.8,356.71 L167.04,356.52 L167.53,356.16 L168.02,355.8 L168.51,355.45 L169,355.1 L169.24,354.92 L169.48,354.75 L169.97,354.4 L170.46,354.06 L170.95,353.72 L171.44,353.38 L171.68,353.21 L171.92,353.05 L172.41,352.72 L172.9,352.39 L174.12,351.58 L175.34,350.8 L176.56,350.03 L177.78,349.28 L179,348.54 L180.22,347.83 L181.44,347.12 L182.66,346.44 L183.88,345.77 L185.1,345.12 L186.32,344.48 L187.54,343.86 L188.76,343.25 L189.98,342.65 L191.2,342.07 L192.42,341.5 L193.64,340.95 L194.86,340.41 L196.08,339.88 L197.3,339.36 L198.52,338.86 L199.74,338.36 L200.96,337.88 L202.18,337.41 L203.4,336.95 L204.62,336.5 L205.84,336.07 L207.06,335.64 L208.28,335.22 L209.5,334.81 L210.72,334.41 L211.94,334.02 L213.16,333.64 L214.38,333.27 L215.6,332.91 L216.82,332.55 L218.04,332.2 L219.26,331.87 L220.48,331.53 L221.7,331.21 L222.92,330.9 L224.14,330.59 L225.36,330.29 L226.58,329.99 L227.8,329.71 L229.02,329.43 L230.24,329.15 L231.46,328.88 L232.68,328.62 L233.9,328.37 L235.12,328.12 L236.34,327.88 L237.56,327.64 L238.78,327.4 L240,327.18 L241.22,326.96 L242.44,326.74 L243.66,326.53 L244.88,326.32 L246.1,326.12" fill="none" stroke="#15908f" stroke-width="1.45" stroke-linejoin="round" stroke-linecap="round"/>
<path d="M50.9,317.38 L52.12,317.55 L53.34,317.73 L54.56,317.92 L55.78,318.11 L57,318.31 L58.22,318.51 L59.44,318.72 L60.66,318.94 L61.88,319.16 L63.1,319.39 L64.32,319.63 L65.54,319.87 L66.76,320.12 L67.98,320.38 L69.2,320.65 L70.42,320.92 L71.64,321.21 L72.86,321.5 L74.08,321.8 L75.3,322.11 L76.52,322.43 L77.74,322.76 L78.96,323.1 L80.18,323.45 L81.4,323.81 L82.62,324.18 L83.84,324.57 L85.06,324.96 L86.28,325.37 L87.5,325.79 L88.72,326.22 L89.94,326.66 L91.16,327.12 L92.38,327.59 L93.6,328.08 L94.82,328.58 L96.04,329.1 L97.26,329.63 L98.48,330.18 L99.7,330.75 L100.92,331.33 L102.14,331.93 L103.36,332.55 L104.58,333.19 L105.8,333.85 L107.02,334.53 L108.24,335.22 L109.46,335.94 L110.68,336.68 L111.9,337.45 L113.12,338.23 L114.34,339.05 L115.56,339.88 L116.78,340.74 L118,341.63 L119.22,342.54 L120.44,343.48 L121.66,344.45 L122.88,345.45 L124.1,346.48 L124.59,346.9 L125.08,347.33 L125.32,347.54 L125.56,347.76 L126.05,348.19 L126.54,348.63 L127.03,349.08 L127.52,349.53 L127.76,349.76 L128,349.99 L128.49,350.45 L128.98,350.91 L129.47,351.39 L129.96,351.86 L130.2,352.11 L130.44,352.35 L130.93,352.84 L131.42,353.33 L131.91,353.83 L132.4,354.34 L132.64,354.59 L132.88,354.85 L133.37,355.37 L133.86,355.89 L134.35,356.42 L134.84,356.95 L135.08,357.22 L135.32,357.5 L135.81,358.04 L136.3,358.59 L136.79,359.15 L137.28,359.71 L137.52,360 L137.76,360.28 L138.25,360.85 L138.74,361.43 L139.23,362.01 L139.72,362.6 L139.96,362.89 L140.2,363.19 L140.69,363.78 L141.18,364.37 L141.67,364.96 L142.16,365.55 L142.4,365.84 L142.64,366.13 L143.13,366.69 L143.62,367.23 L144.11,367.74 L144.6,368.19 L144.84,368.39 L145.08,368.56 L145.57,368.8 L146.06,368.89 L146.55,368.81 L147.04,368.59 L147.28,368.42 L147.52,368.21 L148.01,367.68 L148.5,367 L148.99,366.5 L149.48,366 L149.72,365.75 L149.96,365.51 L150.45,365.02 L150.94,364.54 L151.43,364.06 L151.92,363.59 L152.16,363.36 L152.4,363.13 L152.89,362.67 L153.38,362.21 L153.87,361.76 L154.36,361.31 L154.6,361.09 L154.84,360.87 L155.33,360.44 L155.82,360.01 L156.31,359.58 L156.8,359.16 L157.04,358.95 L157.28,358.74 L157.77,358.33 L158.26,357.92 L158.75,357.52 L159.24,357.12 L159.48,356.92 L159.72,356.72 L160.21,356.33 L160.7,355.95 L161.19,355.56 L161.68,355.19 L161.92,355 L162.16,354.81 L162.65,354.44 L163.14,354.08 L163.63,353.72 L164.12,353.36 L164.36,353.18 L164.6,353 L165.09,352.66 L165.58,352.31 L166.07,351.97 L166.56,351.63 L166.8,351.46 L167.04,351.29 L167.53,350.96 L168.02,350.63 L168.51,350.31 L169,349.99 L169.24,349.83 L169.48,349.67 L169.97,349.36 L170.46,349.05 L170.95,348.74 L171.44,348.44 L171.68,348.29 L171.92,348.14 L172.41,347.84 L172.9,347.55 L174.12,346.83 L175.34,346.13 L176.56,345.45 L177.78,344.79 L179,344.14 L180.22,343.52 L181.44,342.91 L182.66,342.31 L183.88,341.74 L185.1,341.17 L186.32,340.63 L187.54,340.1 L188.76,339.58 L189.98,339.07 L191.2,338.59 L192.42,338.11 L193.64,337.65 L194.86,337.19 L196.08,336.76 L197.3,336.33 L198.52,335.91 L199.74,335.51 L200.96,335.12 L202.18,334.74 L203.4,334.36 L204.62,334 L205.84,333.65 L207.06,333.31 L208.28,332.97 L209.5,332.65 L210.72,332.33 L211.94,332.03 L213.16,331.73 L214.38,331.44 L215.6,331.16 L216.82,330.88 L218.04,330.61 L219.26,330.35 L220.48,330.1 L221.7,329.86 L222.92,329.62 L224.14,329.38 L225.36,329.16 L226.58,328.94 L227.8,328.72 L229.02,328.51 L230.24,328.31 L231.46,328.11 L232.68,327.92 L233.9,327.73 L235.12,327.55 L236.34,327.37 L237.56,327.2 L238.78,327.03 L240,326.87 L241.22,326.71 L242.44,326.56 L243.66,326.41 L244.88,326.26 L246.1,326.12" fill="none" stroke="#15908f" stroke-width="1.45" stroke-linejoin="round" stroke-linecap="round"/>
<path d="M50.9,293.51 L52.12,293.77 L53.34,294.03 L54.56,294.3 L55.78,294.58 L57,294.86 L58.22,295.15 L59.44,295.45 L60.66,295.76 L61.88,296.08 L63.1,296.41 L64.32,296.75 L65.54,297.09 L66.76,297.45 L67.98,297.81 L69.2,298.19 L70.42,298.57 L71.64,298.97 L72.86,299.38 L74.08,299.79 L75.3,300.23 L76.52,300.67 L77.74,301.12 L78.96,301.59 L80.18,302.07 L81.4,302.57 L82.62,303.07 L83.84,303.59 L85.06,304.13 L86.28,304.68 L87.5,305.25 L88.72,305.83 L89.94,306.43 L91.16,307.05 L92.38,307.68 L93.6,308.33 L94.82,309 L96.04,309.69 L97.26,310.39 L98.48,311.12 L99.7,311.86 L100.92,312.63 L102.14,313.42 L103.36,314.23 L104.58,315.06 L105.8,315.92 L107.02,316.8 L108.24,317.7 L109.46,318.63 L110.68,319.59 L111.9,320.57 L113.12,321.58 L114.34,322.62 L115.56,323.69 L116.78,324.78 L118,325.91 L119.22,327.07 L120.44,328.26 L121.66,329.48 L122.88,330.74 L124.1,332.04 L124.59,332.56 L125.08,333.1 L125.32,333.37 L125.56,333.64 L126.05,334.18 L126.54,334.73 L127.03,335.29 L127.52,335.85 L127.76,336.14 L128,336.42 L128.49,337 L128.98,337.58 L129.47,338.17 L129.96,338.76 L130.2,339.06 L130.44,339.37 L130.93,339.98 L131.42,340.59 L131.91,341.21 L132.4,341.84 L132.64,342.16 L132.88,342.48 L133.37,343.12 L133.86,343.77 L134.35,344.43 L134.84,345.09 L135.08,345.43 L135.32,345.76 L135.81,346.44 L136.3,347.13 L136.79,347.82 L137.28,348.53 L137.52,348.88 L137.76,349.24 L138.25,349.95 L138.74,350.68 L139.23,351.41 L139.72,352.15 L139.96,352.53 L140.2,352.9 L140.69,353.66 L141.18,354.43 L141.67,355.2 L142.16,355.99 L142.4,356.38 L142.64,356.78 L143.13,357.58 L143.62,358.39 L144.11,359.21 L144.6,360.04 L144.84,360.46 L145.08,360.88 L145.57,361.72 L146.06,362.58 L146.55,363.44 L147.04,364.32 L147.28,364.76 L147.52,365.2 L148.01,366.1 L148.5,367 L148.99,367.5 L149.48,367.98 L149.72,368.21 L149.96,368.44 L150.45,368.88 L150.94,369.3 L151.43,369.69 L151.92,370.07 L152.16,370.25 L152.4,370.43 L152.89,370.77 L153.38,371.08 L153.87,371.38 L154.36,371.65 L154.6,371.79 L154.84,371.91 L155.33,372.14 L155.82,372.36 L156.31,372.55 L156.8,372.73 L157.04,372.81 L157.28,372.88 L157.77,373.01 L158.26,373.12 L158.75,373.22 L159.24,373.29 L159.48,373.32 L159.72,373.34 L160.21,373.37 L160.7,373.38 L161.19,373.37 L161.68,373.33 L161.92,373.3 L162.16,373.27 L162.65,373.18 L163.14,373.08 L163.63,372.95 L164.12,372.8 L164.36,372.72 L164.6,372.63 L165.09,372.45 L165.58,372.24 L166.07,372.03 L166.56,371.79 L166.8,371.67 L167.04,371.54 L167.53,371.28 L168.02,371 L168.51,370.71 L169,370.41 L169.24,370.25 L169.48,370.09 L169.97,369.77 L170.46,369.43 L170.95,369.09 L171.44,368.74 L171.68,368.56 L171.92,368.38 L172.41,368.01 L172.9,367.63 L174.12,366.66 L175.34,365.65 L176.56,364.61 L177.78,363.55 L179,362.46 L180.22,361.37 L181.44,360.27 L182.66,359.16 L183.88,358.05 L185.1,356.94 L186.32,355.84 L187.54,354.74 L188.76,353.65 L189.98,352.58 L191.2,351.52 L192.42,350.47 L193.64,349.44 L194.86,348.43 L196.08,347.43 L197.3,346.46 L198.52,345.51 L199.74,344.57 L200.96,343.66 L202.18,342.77 L203.4,341.9 L204.62,341.05 L205.84,340.23 L207.06,339.43 L208.28,338.65 L209.5,337.89 L210.72,337.15 L211.94,336.44 L213.16,335.75 L214.38,335.07 L215.6,334.42 L216.82,333.79 L218.04,333.18 L219.26,332.59 L220.48,332.02 L221.7,331.47 L222.92,330.93 L224.14,330.42 L225.36,329.92 L226.58,329.44 L227.8,328.98 L229.02,328.53 L230.24,328.1 L231.46,327.68 L232.68,327.28 L233.9,326.9 L235.12,326.53 L236.34,326.17 L237.56,325.83 L238.78,325.49 L240,325.18 L241.22,324.87 L242.44,324.57 L243.66,324.29 L244.88,324.02 L246.1,323.76" fill="none" stroke="#7d0d12" stroke-width="1.45" stroke-linejoin="round" stroke-linecap="round"/>
<path d="M50.9,293.51 L52.12,293.91 L53.34,294.31 L54.56,294.73 L55.78,295.15 L57,295.59 L58.22,296.03 L59.44,296.49 L60.66,296.95 L61.88,297.43 L63.1,297.92 L64.32,298.42 L65.54,298.93 L66.76,299.46 L67.98,299.99 L69.2,300.54 L70.42,301.11 L71.64,301.68 L72.86,302.27 L74.08,302.88 L75.3,303.5 L76.52,304.13 L77.74,304.78 L78.96,305.44 L80.18,306.12 L81.4,306.82 L82.62,307.53 L83.84,308.26 L85.06,309.01 L86.28,309.77 L87.5,310.55 L88.72,311.36 L89.94,312.18 L91.16,313.02 L92.38,313.88 L93.6,314.76 L94.82,315.66 L96.04,316.58 L97.26,317.53 L98.48,318.49 L99.7,319.48 L100.92,320.5 L102.14,321.53 L103.36,322.6 L104.58,323.68 L105.8,324.8 L107.02,325.94 L108.24,327.1 L109.46,328.3 L110.68,329.52 L111.9,330.77 L113.12,332.05 L114.34,333.37 L115.56,334.71 L116.78,336.08 L118,337.49 L119.22,338.93 L120.44,340.4 L121.66,341.91 L122.88,343.45 L124.1,345.03 L124.59,345.68 L125.08,346.32 L125.32,346.65 L125.56,346.98 L126.05,347.64 L126.54,348.31 L127.03,348.98 L127.52,349.66 L127.76,350 L128,350.34 L128.49,351.03 L128.98,351.73 L129.47,352.43 L129.96,353.14 L130.2,353.5 L130.44,353.86 L130.93,354.58 L131.42,355.31 L131.91,356.05 L132.4,356.79 L132.64,357.16 L132.88,357.54 L133.37,358.29 L133.86,359.05 L134.35,359.82 L134.84,360.59 L135.08,360.98 L135.32,361.37 L135.81,362.16 L136.3,362.95 L136.79,363.75 L137.28,364.56 L137.52,364.96 L137.76,365.36 L138.25,366.18 L138.74,367 L139.23,367.82 L139.72,368.65 L139.96,369.06 L140.2,369.48 L140.69,370.31 L141.18,371.13 L141.67,371.96 L142.16,372.77 L142.4,373.18 L142.64,373.58 L143.13,374.36 L143.62,375.11 L144.11,375.81 L144.6,376.44 L144.84,376.71 L145.08,376.94 L145.57,377.28 L146.06,377.4 L146.55,376.98 L147.04,375.73 L147.28,374.8 L147.52,373.65 L148.01,370.74 L148.5,367 L148.99,366.61 L149.48,366.23 L149.72,366.04 L149.96,365.85 L150.45,365.47 L150.94,365.1 L151.43,364.73 L151.92,364.36 L152.16,364.17 L152.4,363.99 L152.89,363.62 L153.38,363.26 L153.87,362.9 L154.36,362.54 L154.6,362.36 L154.84,362.18 L155.33,361.83 L155.82,361.48 L156.31,361.13 L156.8,360.78 L157.04,360.61 L157.28,360.44 L157.77,360.09 L158.26,359.75 L158.75,359.42 L159.24,359.08 L159.48,358.91 L159.72,358.75 L160.21,358.41 L160.7,358.08 L161.19,357.76 L161.68,357.43 L161.92,357.27 L162.16,357.11 L162.65,356.79 L163.14,356.47 L163.63,356.15 L164.12,355.84 L164.36,355.68 L164.6,355.52 L165.09,355.21 L165.58,354.9 L166.07,354.6 L166.56,354.29 L166.8,354.14 L167.04,353.99 L167.53,353.69 L168.02,353.39 L168.51,353.09 L169,352.8 L169.24,352.65 L169.48,352.51 L169.97,352.21 L170.46,351.92 L170.95,351.64 L171.44,351.35 L171.68,351.21 L171.92,351.07 L172.41,350.79 L172.9,350.51 L174.12,349.81 L175.34,349.13 L176.56,348.46 L177.78,347.8 L179,347.15 L180.22,346.52 L181.44,345.89 L182.66,345.27 L183.88,344.66 L185.1,344.06 L186.32,343.48 L187.54,342.9 L188.76,342.33 L189.98,341.77 L191.2,341.22 L192.42,340.67 L193.64,340.14 L194.86,339.61 L196.08,339.1 L197.3,338.59 L198.52,338.09 L199.74,337.6 L200.96,337.11 L202.18,336.64 L203.4,336.17 L204.62,335.71 L205.84,335.25 L207.06,334.81 L208.28,334.37 L209.5,333.93 L210.72,333.51 L211.94,333.09 L213.16,332.68 L214.38,332.27 L215.6,331.88 L216.82,331.48 L218.04,331.1 L219.26,330.72 L220.48,330.35 L221.7,329.98 L222.92,329.62 L224.14,329.26 L225.36,328.91 L226.58,328.57 L227.8,328.23 L229.02,327.9 L230.24,327.57 L231.46,327.25 L232.68,326.93 L233.9,326.62 L235.12,326.31 L236.34,326.01 L237.56,325.71 L238.78,325.42 L240,325.13 L241.22,324.85 L242.44,324.57 L243.66,324.29 L244.88,324.02 L246.1,323.76" fill="none" stroke="#7d0d12" stroke-width="1.45" stroke-linejoin="round" stroke-linecap="round"/>
<path d="M50.9,279.81 L52.12,280.25 L53.34,280.71 L54.56,281.17 L55.78,281.64 L57,282.13 L58.22,282.62 L59.44,283.12 L60.66,283.63 L61.88,284.16 L63.1,284.69 L64.32,285.23 L65.54,285.79 L66.76,286.35 L67.98,286.93 L69.2,287.52 L70.42,288.12 L71.64,288.74 L72.86,289.36 L74.08,290 L75.3,290.65 L76.52,291.32 L77.74,292 L78.96,292.69 L80.18,293.39 L81.4,294.11 L82.62,294.85 L83.84,295.6 L85.06,296.36 L86.28,297.14 L87.5,297.94 L88.72,298.75 L89.94,299.58 L91.16,300.42 L92.38,301.29 L93.6,302.17 L94.82,303.06 L96.04,303.98 L97.26,304.91 L98.48,305.87 L99.7,306.84 L100.92,307.83 L102.14,308.84 L103.36,309.87 L104.58,310.93 L105.8,312 L107.02,313.1 L108.24,314.21 L109.46,315.36 L110.68,316.52 L111.9,317.71 L113.12,318.92 L114.34,320.15 L115.56,321.41 L116.78,322.7 L118,324.01 L119.22,325.35 L120.44,326.72 L121.66,328.11 L122.88,329.53 L124.1,330.98 L124.59,331.57 L125.08,332.16 L125.32,332.46 L125.56,332.76 L126.05,333.36 L126.54,333.97 L127.03,334.58 L127.52,335.2 L127.76,335.51 L128,335.82 L128.49,336.45 L128.98,337.08 L129.47,337.72 L129.96,338.36 L130.2,338.68 L130.44,339.01 L130.93,339.66 L131.42,340.32 L131.91,340.98 L132.4,341.65 L132.64,341.99 L132.88,342.32 L133.37,343 L133.86,343.69 L134.35,344.38 L134.84,345.07 L135.08,345.42 L135.32,345.78 L135.81,346.48 L136.3,347.2 L136.79,347.91 L137.28,348.64 L137.52,349 L137.76,349.37 L138.25,350.1 L138.74,350.85 L139.23,351.59 L139.72,352.35 L139.96,352.73 L140.2,353.11 L140.69,353.87 L141.18,354.65 L141.67,355.42 L142.16,356.21 L142.4,356.6 L142.64,357 L143.13,357.8 L143.62,358.6 L144.11,359.41 L144.6,360.23 L144.84,360.64 L145.08,361.05 L145.57,361.88 L146.06,362.72 L146.55,363.56 L147.04,364.41 L147.28,364.84 L147.52,365.27 L148.01,366.13 L148.5,367 L148.99,367.45 L149.48,367.88 L149.72,368.09 L149.96,368.3 L150.45,368.71 L150.94,369.09 L151.43,369.47 L151.92,369.82 L152.16,370 L152.4,370.17 L152.89,370.49 L153.38,370.81 L153.87,371.1 L154.36,371.39 L154.6,371.52 L154.84,371.65 L155.33,371.9 L155.82,372.14 L156.31,372.36 L156.8,372.57 L157.04,372.66 L157.28,372.76 L157.77,372.93 L158.26,373.09 L158.75,373.24 L159.24,373.37 L159.48,373.42 L159.72,373.48 L160.21,373.58 L160.7,373.66 L161.19,373.73 L161.68,373.78 L161.92,373.81 L162.16,373.82 L162.65,373.85 L163.14,373.85 L163.63,373.75 L164.12,373.48 L164.36,373.29 L164.6,373.08 L165.09,372.59 L165.58,372.05 L166.07,371.48 L166.56,370.89 L166.8,370.59 L167.04,370.29 L167.53,369.68 L168.02,369.07 L168.51,368.45 L169,367.84 L169.24,367.53 L169.48,367.22 L169.97,366.61 L170.46,366 L170.95,365.39 L171.44,364.78 L171.68,364.48 L171.92,364.18 L172.41,363.58 L172.9,362.99 L174.12,361.52 L175.34,360.07 L176.56,358.65 L177.78,357.25 L179,355.88 L180.22,354.53 L181.44,353.21 L182.66,351.91 L183.88,350.64 L185.1,349.39 L186.32,348.17 L187.54,346.97 L188.76,345.79 L189.98,344.63 L191.2,343.5 L192.42,342.39 L193.64,341.3 L194.86,340.23 L196.08,339.18 L197.3,338.15 L198.52,337.14 L199.74,336.15 L200.96,335.18 L202.18,334.22 L203.4,333.29 L204.62,332.37 L205.84,331.48 L207.06,330.6 L208.28,329.73 L209.5,328.88 L210.72,328.05 L211.94,327.24 L213.16,326.44 L214.38,325.65 L215.6,324.88 L216.82,324.13 L218.04,323.39 L219.26,322.67 L220.48,321.95 L221.7,321.26 L222.92,320.57 L224.14,319.9 L225.36,319.24 L226.58,318.6 L227.8,317.97 L229.02,317.35 L230.24,316.74 L231.46,316.14 L232.68,315.55 L233.9,314.98 L235.12,314.42 L236.34,313.87 L237.56,313.32 L238.78,312.79 L240,312.27 L241.22,311.76 L242.44,311.26 L243.66,310.77 L244.88,310.29 L246.1,309.82" fill="none" stroke="#ff8215" stroke-width="1.45" stroke-linejoin="round" stroke-linecap="round"/>
<path d="M50.9,279.81 L52.12,280.32 L53.34,280.85 L54.56,281.39 L55.78,281.95 L57,282.51 L58.22,283.09 L59.44,283.68 L60.66,284.28 L61.88,284.89 L63.1,285.52 L64.32,286.16 L65.54,286.81 L66.76,287.48 L67.98,288.16 L69.2,288.86 L70.42,289.57 L71.64,290.3 L72.86,291.04 L74.08,291.8 L75.3,292.58 L76.52,293.37 L77.74,294.17 L78.96,295 L80.18,295.84 L81.4,296.7 L82.62,297.58 L83.84,298.48 L85.06,299.4 L86.28,300.34 L87.5,301.29 L88.72,302.27 L89.94,303.27 L91.16,304.29 L92.38,305.33 L93.6,306.39 L94.82,307.48 L96.04,308.59 L97.26,309.72 L98.48,310.88 L99.7,312.06 L100.92,313.26 L102.14,314.5 L103.36,315.76 L104.58,317.04 L105.8,318.35 L107.02,319.69 L108.24,321.06 L109.46,322.46 L110.68,323.89 L111.9,325.35 L113.12,326.84 L114.34,328.36 L115.56,329.91 L116.78,331.5 L118,333.12 L119.22,334.77 L120.44,336.46 L121.66,338.18 L122.88,339.94 L124.1,341.74 L124.59,342.47 L125.08,343.2 L125.32,343.57 L125.56,343.95 L126.05,344.69 L126.54,345.45 L127.03,346.21 L127.52,346.97 L127.76,347.36 L128,347.74 L128.49,348.52 L128.98,349.31 L129.47,350.1 L129.96,350.9 L130.2,351.3 L130.44,351.7 L130.93,352.51 L131.42,353.32 L131.91,354.15 L132.4,354.98 L132.64,355.39 L132.88,355.81 L133.37,356.65 L133.86,357.5 L134.35,358.35 L134.84,359.21 L135.08,359.64 L135.32,360.08 L135.81,360.95 L136.3,361.83 L136.79,362.71 L137.28,363.59 L137.52,364.04 L137.76,364.48 L138.25,365.38 L138.74,366.27 L139.23,367.17 L139.72,368.07 L139.96,368.52 L140.2,368.97 L140.69,369.86 L141.18,370.74 L141.67,371.61 L142.16,372.46 L142.4,372.87 L142.64,373.27 L143.13,374.03 L143.62,374.7 L144.11,375.25 L144.6,375.61 L144.84,375.71 L145.08,375.74 L145.57,375.56 L146.06,375.03 L146.55,374.14 L147.04,372.89 L147.28,372.13 L147.52,371.28 L148.01,369.32 L148.5,367 L148.99,367.31 L149.48,367.61 L149.72,367.75 L149.96,367.89 L150.45,368.15 L150.94,368.39 L151.43,368.61 L151.92,368.81 L152.16,368.91 L152.4,369 L152.89,369.17 L153.38,369.31 L153.87,369.44 L154.36,369.56 L154.6,369.6 L154.84,369.65 L155.33,369.72 L155.82,369.78 L156.31,369.81 L156.8,369.83 L157.04,369.84 L157.28,369.82 L157.77,369.66 L158.26,369.37 L158.75,369 L159.24,368.56 L159.48,368.33 L159.72,368.09 L160.21,367.59 L160.7,367.07 L161.19,366.55 L161.68,366.01 L161.92,365.75 L162.16,365.48 L162.65,364.94 L163.14,364.4 L163.63,363.87 L164.12,363.33 L164.36,363.06 L164.6,362.8 L165.09,362.26 L165.58,361.73 L166.07,361.2 L166.56,360.68 L166.8,360.42 L167.04,360.16 L167.53,359.64 L168.02,359.12 L168.51,358.61 L169,358.1 L169.24,357.84 L169.48,357.59 L169.97,357.09 L170.46,356.58 L170.95,356.09 L171.44,355.59 L171.68,355.35 L171.92,355.1 L172.41,354.62 L172.9,354.13 L174.12,352.94 L175.34,351.76 L176.56,350.61 L177.78,349.47 L179,348.36 L180.22,347.26 L181.44,346.18 L182.66,345.13 L183.88,344.09 L185.1,343.07 L186.32,342.07 L187.54,341.08 L188.76,340.12 L189.98,339.17 L191.2,338.24 L192.42,337.32 L193.64,336.42 L194.86,335.54 L196.08,334.67 L197.3,333.82 L198.52,332.98 L199.74,332.16 L200.96,331.36 L202.18,330.57 L203.4,329.79 L204.62,329.02 L205.84,328.27 L207.06,327.54 L208.28,326.81 L209.5,326.1 L210.72,325.41 L211.94,324.72 L213.16,324.05 L214.38,323.39 L215.6,322.74 L216.82,322.1 L218.04,321.47 L219.26,320.86 L220.48,320.26 L221.7,319.66 L222.92,319.08 L224.14,318.51 L225.36,317.95 L226.58,317.4 L227.8,316.86 L229.02,316.33 L230.24,315.8 L231.46,315.29 L232.68,314.79 L233.9,314.29 L235.12,313.81 L236.34,313.33 L237.56,312.86 L238.78,312.4 L240,311.95 L241.22,311.51 L242.44,311.07 L243.66,310.65 L244.88,310.23 L246.1,309.82" fill="none" stroke="#ff8215" stroke-width="1.45" stroke-linejoin="round" stroke-linecap="round"/>
<path d="M50.9,291.38 L52.12,291.66 L53.34,291.95 L54.56,292.25 L55.78,292.55 L57,292.86 L58.22,293.18 L59.44,293.51 L60.66,293.85 L61.88,294.2 L63.1,294.55 L64.32,294.92 L65.54,295.29 L66.76,295.68 L67.98,296.07 L69.2,296.48 L70.42,296.89 L71.64,297.32 L72.86,297.76 L74.08,298.21 L75.3,298.67 L76.52,299.14 L77.74,299.63 L78.96,300.13 L80.18,300.64 L81.4,301.17 L82.62,301.71 L83.84,302.27 L85.06,302.84 L86.28,303.42 L87.5,304.02 L88.72,304.64 L89.94,305.27 L91.16,305.92 L92.38,306.59 L93.6,307.28 L94.82,307.98 L96.04,308.7 L97.26,309.44 L98.48,310.2 L99.7,310.99 L100.92,311.79 L102.14,312.61 L103.36,313.46 L104.58,314.32 L105.8,315.21 L107.02,316.13 L108.24,317.07 L109.46,318.03 L110.68,319.02 L111.9,320.04 L113.12,321.08 L114.34,322.15 L115.56,323.25 L116.78,324.38 L118,325.54 L119.22,326.72 L120.44,327.95 L121.66,329.2 L122.88,330.48 L124.1,331.81 L124.59,332.34 L125.08,332.89 L125.32,333.16 L125.56,333.44 L126.05,333.99 L126.54,334.55 L127.03,335.12 L127.52,335.69 L127.76,335.98 L128,336.27 L128.49,336.86 L128.98,337.45 L129.47,338.05 L129.96,338.65 L130.2,338.95 L130.44,339.26 L130.93,339.88 L131.42,340.5 L131.91,341.13 L132.4,341.77 L132.64,342.09 L132.88,342.41 L133.37,343.06 L133.86,343.72 L134.35,344.38 L134.84,345.05 L135.08,345.39 L135.32,345.73 L135.81,346.41 L136.3,347.11 L136.79,347.81 L137.28,348.51 L137.52,348.87 L137.76,349.23 L138.25,349.95 L138.74,350.68 L139.23,351.42 L139.72,352.16 L139.96,352.54 L140.2,352.91 L140.69,353.67 L141.18,354.44 L141.67,355.22 L142.16,356.01 L142.4,356.4 L142.64,356.8 L143.13,357.6 L143.62,358.41 L144.11,359.23 L144.6,360.06 L144.84,360.47 L145.08,360.89 L145.57,361.74 L146.06,362.59 L146.55,363.46 L147.04,364.33 L147.28,364.77 L147.52,365.21 L148.01,366.1 L148.5,367 L148.99,367.88 L149.48,368.62 L149.72,368.94 L149.96,369.23 L150.45,369.7 L150.94,370.04 L151.43,370.24 L151.92,370.31 L152.16,370.28 L152.4,370.2 L152.89,369.9 L153.38,369.45 L153.87,368.89 L154.36,368.27 L154.6,367.94 L154.84,367.61 L155.33,366.91 L155.82,366.21 L156.31,365.49 L156.8,364.76 L157.04,364.4 L157.28,364.03 L157.77,363.31 L158.26,362.58 L158.75,361.86 L159.24,361.14 L159.48,360.79 L159.72,360.43 L160.21,359.73 L160.7,359.02 L161.19,358.33 L161.68,357.64 L161.92,357.3 L162.16,356.95 L162.65,356.28 L163.14,355.61 L163.63,354.94 L164.12,354.28 L164.36,353.96 L164.6,353.63 L165.09,352.99 L165.58,352.35 L166.07,351.72 L166.56,351.1 L166.8,350.79 L167.04,350.48 L167.53,349.87 L168.02,349.26 L168.51,348.66 L169,348.07 L169.24,347.77 L169.48,347.48 L169.97,346.9 L170.46,346.33 L170.95,345.76 L171.44,345.2 L171.68,344.92 L171.92,344.64 L172.41,344.09 L172.9,343.55 L174.12,342.22 L175.34,340.92 L176.56,339.66 L177.78,338.43 L179,337.23 L180.22,336.07 L181.44,334.94 L182.66,333.84 L183.88,332.77 L185.1,331.72 L186.32,330.71 L187.54,329.72 L188.76,328.77 L189.98,327.83 L191.2,326.93 L192.42,326.04 L193.64,325.18 L194.86,324.35 L196.08,323.54 L197.3,322.75 L198.52,321.98 L199.74,321.23 L200.96,320.5 L202.18,319.8 L203.4,319.11 L204.62,318.44 L205.84,317.79 L207.06,317.15 L208.28,316.54 L209.5,315.94 L210.72,315.36 L211.94,314.79 L213.16,314.24 L214.38,313.7 L215.6,313.18 L216.82,312.67 L218.04,312.18 L219.26,311.7 L220.48,311.23 L221.7,310.78 L222.92,310.34 L224.14,309.91 L225.36,309.49 L226.58,309.09 L227.8,308.69 L229.02,308.31 L230.24,307.93 L231.46,307.57 L232.68,307.21 L233.9,306.87 L235.12,306.54 L236.34,306.21 L237.56,305.89 L238.78,305.59 L240,305.29 L241.22,305 L242.44,304.71 L243.66,304.44 L244.88,304.17 L246.1,303.91" fill="none" stroke="#16901a" stroke-width="1.45" stroke-linejoin="round" stroke-linecap="round"/>
<path d="M50.9,291.38 L52.12,291.63 L53.34,291.88 L54.56,292.14 L55.78,292.41 L57,292.69 L58.22,292.98 L59.44,293.27 L60.66,293.58 L61.88,293.9 L63.1,294.23 L64.32,294.57 L65.54,294.92 L66.76,295.29 L67.98,295.66 L69.2,296.05 L70.42,296.46 L71.64,296.87 L72.86,297.3 L74.08,297.75 L75.3,298.21 L76.52,298.69 L77.74,299.18 L78.96,299.69 L80.18,300.21 L81.4,300.76 L82.62,301.32 L83.84,301.9 L85.06,302.5 L86.28,303.12 L87.5,303.77 L88.72,304.43 L89.94,305.12 L91.16,305.83 L92.38,306.57 L93.6,307.33 L94.82,308.11 L96.04,308.92 L97.26,309.76 L98.48,310.63 L99.7,311.53 L100.92,312.46 L102.14,313.42 L103.36,314.41 L104.58,315.44 L105.8,316.5 L107.02,317.6 L108.24,318.73 L109.46,319.91 L110.68,321.12 L111.9,322.37 L113.12,323.67 L114.34,325.01 L115.56,326.39 L116.78,327.83 L118,329.31 L119.22,330.84 L120.44,332.42 L121.66,334.05 L122.88,335.74 L124.1,337.49 L124.59,338.21 L125.08,338.93 L125.32,339.3 L125.56,339.66 L126.05,340.41 L126.54,341.16 L127.03,341.92 L127.52,342.7 L127.76,343.09 L128,343.48 L128.49,344.27 L128.98,345.08 L129.47,345.89 L129.96,346.71 L130.2,347.13 L130.44,347.55 L130.93,348.39 L131.42,349.25 L131.91,350.11 L132.4,350.99 L132.64,351.43 L132.88,351.88 L133.37,352.78 L133.86,353.69 L134.35,354.61 L134.84,355.54 L135.08,356.01 L135.32,356.48 L135.81,357.43 L136.3,358.39 L136.79,359.36 L137.28,360.33 L137.52,360.82 L137.76,361.32 L138.25,362.31 L138.74,363.3 L139.23,364.3 L139.72,365.29 L139.96,365.78 L140.2,366.27 L140.69,367.24 L141.18,368.19 L141.67,369.09 L142.16,369.91 L142.4,370.28 L142.64,370.62 L143.13,371.16 L143.62,371.45 L144.11,371.48 L144.6,371.38 L144.84,371.29 L145.08,371.18 L145.57,370.88 L146.06,370.48 L146.55,369.98 L147.04,369.39 L147.28,369.05 L147.52,368.69 L148.01,367.9 L148.5,367 L148.99,366.19 L149.48,365.38 L149.72,364.98 L149.96,364.58 L150.45,363.8 L150.94,363.02 L151.43,362.25 L151.92,361.49 L152.16,361.12 L152.4,360.74 L152.89,360 L153.38,359.27 L153.87,358.54 L154.36,357.83 L154.6,357.47 L154.84,357.12 L155.33,356.42 L155.82,355.73 L156.31,355.05 L156.8,354.37 L157.04,354.04 L157.28,353.7 L157.77,353.05 L158.26,352.39 L158.75,351.75 L159.24,351.11 L159.48,350.8 L159.72,350.48 L160.21,349.86 L160.7,349.25 L161.19,348.64 L161.68,348.04 L161.92,347.74 L162.16,347.45 L162.65,346.86 L163.14,346.28 L163.63,345.71 L164.12,345.14 L164.36,344.86 L164.6,344.58 L165.09,344.03 L165.58,343.48 L166.07,342.94 L166.56,342.41 L166.8,342.15 L167.04,341.88 L167.53,341.36 L168.02,340.85 L168.51,340.34 L169,339.83 L169.24,339.58 L169.48,339.34 L169.97,338.85 L170.46,338.36 L170.95,337.88 L171.44,337.4 L171.68,337.17 L171.92,336.94 L172.41,336.47 L172.9,336.01 L174.12,334.89 L175.34,333.8 L176.56,332.74 L177.78,331.72 L179,330.72 L180.22,329.75 L181.44,328.81 L182.66,327.9 L183.88,327.01 L185.1,326.15 L186.32,325.31 L187.54,324.5 L188.76,323.71 L189.98,322.95 L191.2,322.2 L192.42,321.48 L193.64,320.78 L194.86,320.1 L196.08,319.44 L197.3,318.79 L198.52,318.17 L199.74,317.57 L200.96,316.98 L202.18,316.41 L203.4,315.85 L204.62,315.31 L205.84,314.79 L207.06,314.28 L208.28,313.79 L209.5,313.31 L210.72,312.85 L211.94,312.4 L213.16,311.96 L214.38,311.53 L215.6,311.12 L216.82,310.72 L218.04,310.33 L219.26,309.95 L220.48,309.58 L221.7,309.23 L222.92,308.88 L224.14,308.54 L225.36,308.22 L226.58,307.9 L227.8,307.59 L229.02,307.29 L230.24,307 L231.46,306.72 L232.68,306.44 L233.9,306.18 L235.12,305.92 L236.34,305.67 L237.56,305.43 L238.78,305.19 L240,304.96 L241.22,304.74 L242.44,304.52 L243.66,304.31 L244.88,304.11 L246.1,303.91" fill="none" stroke="#16901a" stroke-width="1.45" stroke-linejoin="round" stroke-linecap="round"/>
<path d="M50.9,254.52 L52.12,254.68 L53.34,254.84 L54.56,255.01 L55.78,255.19 L57,255.38 L58.22,255.57 L59.44,255.78 L60.66,255.99 L61.88,256.21 L63.1,256.44 L64.32,256.69 L65.54,256.94 L66.76,257.2 L67.98,257.48 L69.2,257.77 L70.42,258.07 L71.64,258.39 L72.86,258.72 L74.08,259.06 L75.3,259.42 L76.52,259.8 L77.74,260.19 L78.96,260.6 L80.18,261.03 L81.4,261.47 L82.62,261.94 L83.84,262.43 L85.06,262.94 L86.28,263.47 L87.5,264.03 L88.72,264.61 L89.94,265.22 L91.16,265.86 L92.38,266.52 L93.6,267.21 L94.82,267.94 L96.04,268.69 L97.26,269.48 L98.48,270.31 L99.7,271.17 L100.92,272.07 L102.14,273.02 L103.36,274 L104.58,275.03 L105.8,276.1 L107.02,277.22 L108.24,278.4 L109.46,279.62 L110.68,280.9 L111.9,282.23 L113.12,283.63 L114.34,285.09 L115.56,286.61 L116.78,288.2 L118,289.87 L119.22,291.61 L120.44,293.42 L121.66,295.32 L122.88,297.3 L124.1,299.37 L124.59,300.22 L125.08,301.09 L125.32,301.53 L125.56,301.97 L126.05,302.87 L126.54,303.79 L127.03,304.72 L127.52,305.67 L127.76,306.15 L128,306.63 L128.49,307.61 L128.98,308.61 L129.47,309.63 L129.96,310.66 L130.2,311.19 L130.44,311.72 L130.93,312.79 L131.42,313.88 L131.91,314.99 L132.4,316.12 L132.64,316.69 L132.88,317.27 L133.37,318.44 L133.86,319.63 L134.35,320.84 L134.84,322.07 L135.08,322.7 L135.32,323.33 L135.81,324.6 L136.3,325.9 L136.79,327.22 L137.28,328.57 L137.52,329.25 L137.76,329.94 L138.25,331.33 L138.74,332.75 L139.23,334.19 L139.72,335.66 L139.96,336.4 L140.2,337.15 L140.69,338.68 L141.18,340.22 L141.67,341.8 L142.16,343.4 L142.4,344.21 L142.64,345.03 L143.13,346.69 L143.62,348.38 L144.11,350.1 L144.6,351.85 L144.84,352.73 L145.08,353.63 L145.57,355.44 L146.06,357.28 L146.55,359.16 L147.04,361.07 L147.28,362.04 L147.52,363.01 L148.01,364.99 L148.5,367 L148.99,369.69 L149.48,372.09 L149.72,373.18 L149.96,374.2 L150.45,376.01 L150.94,377.52 L151.43,378.74 L151.92,379.67 L152.16,380.03 L152.4,380.3 L152.89,380.64 L153.38,380.68 L153.87,380.31 L154.36,379.56 L154.6,379.08 L154.84,378.55 L155.33,377.36 L155.82,376.05 L156.31,374.68 L156.8,373.26 L157.04,372.54 L157.28,371.82 L157.77,370.37 L158.26,368.92 L158.75,367.48 L159.24,366.04 L159.48,365.32 L159.72,364.61 L160.21,363.19 L160.7,361.79 L161.19,360.4 L161.68,359.03 L161.92,358.35 L162.16,357.67 L162.65,356.33 L163.14,355.01 L163.63,353.71 L164.12,352.42 L164.36,351.78 L164.6,351.15 L165.09,349.89 L165.58,348.66 L166.07,347.44 L166.56,346.24 L166.8,345.64 L167.04,345.05 L167.53,343.89 L168.02,342.74 L168.51,341.6 L169,340.48 L169.24,339.93 L169.48,339.38 L169.97,338.29 L170.46,337.22 L170.95,336.17 L171.44,335.13 L171.68,334.61 L171.92,334.1 L172.41,333.09 L172.9,332.1 L174.12,329.67 L175.34,327.34 L176.56,325.08 L177.78,322.91 L179,320.82 L180.22,318.81 L181.44,316.87 L182.66,315 L183.88,313.19 L185.1,311.46 L186.32,309.79 L187.54,308.18 L188.76,306.62 L189.98,305.13 L191.2,303.69 L192.42,302.3 L193.64,300.97 L194.86,299.68 L196.08,298.44 L197.3,297.25 L198.52,296.09 L199.74,294.99 L200.96,293.92 L202.18,292.89 L203.4,291.9 L204.62,290.95 L205.84,290.03 L207.06,289.14 L208.28,288.29 L209.5,287.47 L210.72,286.68 L211.94,285.92 L213.16,285.18 L214.38,284.48 L215.6,283.79 L216.82,283.14 L218.04,282.51 L219.26,281.9 L220.48,281.31 L221.7,280.75 L222.92,280.2 L224.14,279.68 L225.36,279.18 L226.58,278.69 L227.8,278.22 L229.02,277.77 L230.24,277.34 L231.46,276.92 L232.68,276.52 L233.9,276.13 L235.12,275.75 L236.34,275.39 L237.56,275.05 L238.78,274.71 L240,274.39 L241.22,274.08 L242.44,273.78 L243.66,273.5 L244.88,273.22 L246.1,272.95" fill="none" stroke="#c4c40a" stroke-width="1.45" stroke-linejoin="round" stroke-linecap="round"/>
<path d="M50.9,254.52 L52.12,254.68 L53.34,254.85 L54.56,255.02 L55.78,255.2 L57,255.4 L58.22,255.6 L59.44,255.82 L60.66,256.04 L61.88,256.28 L63.1,256.53 L64.32,256.79 L65.54,257.07 L66.76,257.36 L67.98,257.66 L69.2,257.98 L70.42,258.32 L71.64,258.68 L72.86,259.05 L74.08,259.45 L75.3,259.86 L76.52,260.3 L77.74,260.76 L78.96,261.24 L80.18,261.75 L81.4,262.29 L82.62,262.85 L83.84,263.45 L85.06,264.07 L86.28,264.72 L87.5,265.42 L88.72,266.14 L89.94,266.91 L91.16,267.71 L92.38,268.56 L93.6,269.45 L94.82,270.38 L96.04,271.37 L97.26,272.41 L98.48,273.5 L99.7,274.65 L100.92,275.85 L102.14,277.13 L103.36,278.46 L104.58,279.87 L105.8,281.35 L107.02,282.91 L108.24,284.55 L109.46,286.27 L110.68,288.08 L111.9,289.99 L113.12,292 L114.34,294.11 L115.56,296.33 L116.78,298.67 L118,301.12 L119.22,303.71 L120.44,306.43 L121.66,309.29 L122.88,312.29 L124.1,315.46 L124.59,316.77 L125.08,318.1 L125.32,318.78 L125.56,319.47 L126.05,320.86 L126.54,322.28 L127.03,323.72 L127.52,325.2 L127.76,325.95 L128,326.71 L128.49,328.24 L128.98,329.81 L129.47,331.41 L129.96,333.04 L130.2,333.86 L130.44,334.7 L130.93,336.39 L131.42,338.12 L131.91,339.88 L132.4,341.68 L132.64,342.59 L132.88,343.51 L133.37,345.37 L133.86,347.27 L134.35,349.21 L134.84,351.18 L135.08,352.18 L135.32,353.18 L135.81,355.22 L136.3,357.3 L136.79,359.41 L137.28,361.55 L137.52,362.63 L137.76,363.72 L138.25,365.91 L138.74,368.13 L139.23,370.37 L139.72,372.62 L139.96,373.74 L140.2,374.85 L140.69,377.07 L141.18,379.23 L141.67,381.29 L142.16,383.18 L142.4,384.03 L142.64,384.79 L143.13,385.98 L143.62,386.57 L144.11,386.52 L144.6,386.04 L144.84,385.64 L145.08,385.13 L145.57,383.81 L146.06,382.06 L146.55,379.89 L147.04,377.3 L147.28,375.85 L147.52,374.29 L148.01,370.85 L148.5,367 L148.99,365.49 L149.48,363.99 L149.72,363.26 L149.96,362.53 L150.45,361.08 L150.94,359.66 L151.43,358.25 L151.92,356.87 L152.16,356.19 L152.4,355.51 L152.89,354.18 L153.38,352.86 L153.87,351.56 L154.36,350.28 L154.6,349.65 L154.84,349.03 L155.33,347.79 L155.82,346.57 L156.31,345.37 L156.8,344.19 L157.04,343.6 L157.28,343.02 L157.77,341.88 L158.26,340.75 L158.75,339.64 L159.24,338.54 L159.48,338 L159.72,337.47 L160.21,336.41 L160.7,335.36 L161.19,334.33 L161.68,333.32 L161.92,332.82 L162.16,332.32 L162.65,331.34 L163.14,330.38 L163.63,329.43 L164.12,328.49 L164.36,328.03 L164.6,327.57 L165.09,326.66 L165.58,325.76 L166.07,324.88 L166.56,324.02 L166.8,323.59 L167.04,323.16 L167.53,322.32 L168.02,321.49 L168.51,320.68 L169,319.88 L169.24,319.48 L169.48,319.09 L169.97,318.31 L170.46,317.54 L170.95,316.79 L171.44,316.05 L171.68,315.68 L171.92,315.32 L172.41,314.6 L172.9,313.89 L174.12,312.16 L175.34,310.5 L176.56,308.91 L177.78,307.37 L179,305.9 L180.22,304.48 L181.44,303.11 L182.66,301.79 L183.88,300.53 L185.1,299.31 L186.32,298.14 L187.54,297.02 L188.76,295.93 L189.98,294.89 L191.2,293.89 L192.42,292.92 L193.64,292 L194.86,291.1 L196.08,290.24 L197.3,289.42 L198.52,288.62 L199.74,287.86 L200.96,287.12 L202.18,286.42 L203.4,285.74 L204.62,285.08 L205.84,284.45 L207.06,283.85 L208.28,283.26 L209.5,282.7 L210.72,282.16 L211.94,281.65 L213.16,281.15 L214.38,280.67 L215.6,280.2 L216.82,279.76 L218.04,279.33 L219.26,278.92 L220.48,278.53 L221.7,278.15 L222.92,277.78 L224.14,277.43 L225.36,277.09 L226.58,276.76 L227.8,276.45 L229.02,276.15 L230.24,275.86 L231.46,275.58 L232.68,275.31 L233.9,275.05 L235.12,274.8 L236.34,274.56 L237.56,274.34 L238.78,274.11 L240,273.9 L241.22,273.7 L242.44,273.5 L243.66,273.31 L244.88,273.13 L246.1,272.95" fill="none" stroke="#c4c40a" stroke-width="1.45" stroke-linejoin="round" stroke-linecap="round"/>
<line x1="38.7" y1="367" x2="258" y2="367" stroke="#3a3a3a" stroke-width="1.2" stroke-dasharray="6.2 2.9"/>
<line x1="148.3" y1="225.4" x2="148.3" y2="390.8" stroke="#5a5a5a" stroke-width="1.4" stroke-dasharray="6 3.1"/>
<path d="M38.7,225.4 H258 V390.8 H38.7 Z" fill="none" stroke="#383838" stroke-width="1.2"/>
<line x1="50.9" y1="390.8" x2="50.9" y2="387.6" stroke="#383838" stroke-width="1.1"/>
<text transform="translate(50.9,405.5) scale(0.91,1)" font-size="10.6" text-anchor="middle" fill="#1e1e1e">-40</text>
<line x1="99.7" y1="390.8" x2="99.7" y2="387.6" stroke="#383838" stroke-width="1.1"/>
<text transform="translate(99.7,405.5) scale(0.91,1)" font-size="10.6" text-anchor="middle" fill="#1e1e1e">-20</text>
<line x1="148.5" y1="390.8" x2="148.5" y2="387.6" stroke="#383838" stroke-width="1.1"/>
<text transform="translate(148.5,405.5) scale(0.91,1)" font-size="10.6" text-anchor="middle" fill="#1e1e1e">0</text>
<line x1="197.3" y1="390.8" x2="197.3" y2="387.6" stroke="#383838" stroke-width="1.1"/>
<text transform="translate(197.3,405.5) scale(0.91,1)" font-size="10.6" text-anchor="middle" fill="#1e1e1e">20</text>
<line x1="246.1" y1="390.8" x2="246.1" y2="387.6" stroke="#383838" stroke-width="1.1"/>
<text transform="translate(246.1,405.5) scale(0.91,1)" font-size="10.6" text-anchor="middle" fill="#1e1e1e">40</text>
<line x1="38.7" y1="390.63" x2="41.9" y2="390.63" stroke="#383838" stroke-width="1.1"/>
<text transform="translate(33.3,394.23) scale(0.91,1)" font-size="10.6" text-anchor="end" fill="#1e1e1e">-0.1</text>
<line x1="38.7" y1="367" x2="41.9" y2="367" stroke="#383838" stroke-width="1.1"/>
<text transform="translate(33.3,370.6) scale(0.91,1)" font-size="10.6" text-anchor="end" fill="#1e1e1e">0.0</text>
<line x1="38.7" y1="343.37" x2="41.9" y2="343.37" stroke="#383838" stroke-width="1.1"/>
<text transform="translate(33.3,346.97) scale(0.91,1)" font-size="10.6" text-anchor="end" fill="#1e1e1e">0.1</text>
<line x1="38.7" y1="319.74" x2="41.9" y2="319.74" stroke="#383838" stroke-width="1.1"/>
<text transform="translate(33.3,323.34) scale(0.91,1)" font-size="10.6" text-anchor="end" fill="#1e1e1e">0.2</text>
<line x1="38.7" y1="296.11" x2="41.9" y2="296.11" stroke="#383838" stroke-width="1.1"/>
<text transform="translate(33.3,299.71) scale(0.91,1)" font-size="10.6" text-anchor="end" fill="#1e1e1e">0.3</text>
<line x1="38.7" y1="272.48" x2="41.9" y2="272.48" stroke="#383838" stroke-width="1.1"/>
<text transform="translate(33.3,276.08) scale(0.91,1)" font-size="10.6" text-anchor="end" fill="#1e1e1e">0.4</text>
<line x1="38.7" y1="248.85" x2="41.9" y2="248.85" stroke="#383838" stroke-width="1.1"/>
<text transform="translate(33.3,252.45) scale(0.91,1)" font-size="10.6" text-anchor="end" fill="#1e1e1e">0.5</text>
<line x1="38.7" y1="225.22" x2="41.9" y2="225.22" stroke="#383838" stroke-width="1.1"/>
<text transform="translate(33.3,228.82) scale(0.91,1)" font-size="10.6" text-anchor="end" fill="#1e1e1e">0.6</text>
<text transform="translate(100.1,418.6) scale(0.96,1)" font-size="12.0" text-anchor="start" fill="#1e1e1e">Electric field (kV/cm)</text>
<text transform="translate(14,331.4) rotate(-90)" font-size="11.5" text-anchor="start" fill="#1e1e1e">Strain (%)</text>
<text transform="translate(44.2,241.7) scale(0.92,1)" font-size="12.4" text-anchor="start" fill="#1e1e1e">(c)</text>
<path d="M298.8,373.25h0M299.78,372.35h0M300.76,370.02h0M301.73,365.29h0M302.71,360.91h0M303.69,357.01h0M304.67,353.3h0M305.65,349.69h0M306.62,346.41h0M307.6,343.58h0M308.58,341.01h0M309.56,338.58h0M310.54,336.19h0M311.51,333.9h0M312.49,331.69h0M313.47,329.56h0M314.45,327.47h0M315.43,325.43h0M316.4,323.49h0M317.38,321.71h0M318.36,320.11h0M319.34,318.65h0M320.32,317.25h0M321.29,315.87h0M322.27,314.45h0M323.25,313.05h0M324.23,311.66h0M325.21,310.26h0M326.18,308.83h0M327.16,307.33h0M328.14,305.78h0M329.12,304.24h0M330.1,302.77h0M331.07,301.41h0M332.05,300.06h0M333.03,298.75h0M334.01,297.49h0M334.99,296.3h0M335.96,295.21h0M336.94,294.23h0M337.92,293.35h0M338.9,292.54h0M339.88,291.79h0M340.85,291.07h0M341.83,290.39h0M342.81,289.72h0M343.79,289.05h0M344.77,288.38h0M345.74,287.68h0M346.72,286.95h0M347.7,286.23h0M348.68,285.51h0M349.66,284.79h0M350.63,284.08h0M351.61,283.35h0M352.59,282.62h0M353.57,281.88h0M354.55,281.11h0M355.52,280.33h0M356.5,279.51h0M357.48,278.64h0M358.46,277.75h0M359.44,276.83h0M360.41,275.92h0M361.39,275.01h0M362.37,274.12h0M363.35,273.26h0M364.33,272.45h0M365.3,271.7h0M366.28,270.97h0M367.26,270.28h0M368.24,269.6h0M369.22,268.94h0M370.19,268.3h0M371.17,267.66h0M372.15,267.03h0M373.13,266.41h0M374.11,265.78h0M375.08,265.14h0M376.06,264.48h0M377.04,263.82h0M378.02,263.15h0M379,262.48h0M379.97,261.84h0M380.95,261.23h0M381.93,260.66h0M382.91,260.14h0M383.89,259.68h0M384.86,259.28h0M385.84,258.91h0M386.82,258.57h0M387.8,258.25h0M388.78,257.94h0M389.75,257.64h0M390.73,257.35h0M391.71,257.05h0M392.69,256.77h0M393.67,256.5h0M394.64,256.24h0M395.62,255.97h0M396.6,255.69h0M397.58,255.4h0M398.56,255.1h0M399.53,254.79h0M400.51,254.47h0M401.49,254.16h0M402.47,253.84h0M403.45,253.53h0M404.42,253.22h0M405.4,252.92h0M406.38,252.64h0M407.36,252.37h0M408.34,252.1h0M409.31,251.83h0M410.29,251.56h0M411.27,251.29h0M412.25,251.01h0M413.23,250.73h0M414.2,250.43h0M415.18,250.12h0M416.16,249.78h0M417.14,249.41h0M418.12,249.03h0M419.09,248.64h0M420.07,248.25h0M421.05,247.86h0M422.03,247.48h0M423.01,247.11h0M423.98,246.77h0M424.96,246.46h0M425.94,246.18h0M426.92,245.93h0M427.9,245.69h0M428.87,245.46h0M429.85,245.23h0M430.83,245.01h0M431.81,244.79h0M432.79,244.56h0M433.76,244.31h0M434.74,244.05h0M435.72,243.77h0M436.7,243.47h0M437.68,243.14h0M438.65,242.81h0M439.63,242.47h0M440.61,242.12h0M441.59,241.78h0M442.57,241.45h0M443.54,241.13h0M444.52,240.82h0M445.5,240.54h0M446.48,240.26h0M447.46,239.99h0M448.43,239.72h0M449.41,239.46h0M450.39,239.21h0M451.37,238.96h0M452.35,238.73h0M453.32,238.51h0M454.3,238.3h0M455.28,238.11h0M456.26,237.92h0M457.24,237.75h0M458.21,237.58h0M459.19,237.42h0M460.17,237.27h0M461.15,237.12h0M462.13,236.97h0M463.1,236.83h0M464.08,236.69h0M465.06,236.55h0M466.04,236.42h0M467.02,236.28h0M467.99,236.16h0M468.97,236.03h0M469.95,235.91h0M470.93,235.79h0M471.91,235.67h0M472.88,235.55h0M473.86,235.43h0M474.84,235.31h0M475.82,235.19h0M476.8,235.06h0M477.77,234.92h0M478.75,234.78h0M479.73,234.65h0M480.71,234.52h0M481.69,234.4h0M482.66,234.29h0M483.64,234.19h0M484.62,234.11h0M485.6,234.04h0M486.58,233.98h0M487.55,233.92h0M488.53,233.86h0M489.51,233.81h0M490.49,233.77h0M491.47,233.73h0M492.44,233.7h0M493.42,233.67h0M494.4,233.66h0M298.8,390.6h0M299.78,390.48h0M300.76,390.18h0M301.73,389.76h0M302.71,389.27h0M303.69,388.55h0M304.67,387.58h0M305.65,386.41h0M306.62,384.77h0M307.6,382.64h0M308.58,380.32h0M309.56,377.91h0M310.54,375.25h0M311.51,372.52h0M312.49,369.88h0M313.47,367.27h0M314.45,364.68h0M315.43,362.14h0M316.4,359.69h0M317.38,357.3h0M318.36,354.89h0M319.34,352.42h0M320.32,349.78h0M321.29,346.98h0M322.27,344.16h0M323.25,341.44h0M324.23,338.96h0M325.21,336.66h0M326.18,334.48h0M327.16,332.37h0M328.14,330.3h0M329.12,328.26h0M330.1,326.27h0M331.07,324.33h0M332.05,322.45h0M333.03,320.64h0M334.01,318.88h0M334.99,317.17h0M335.96,315.53h0M336.94,313.97h0M337.92,312.52h0M338.9,311.14h0M339.88,309.78h0M340.85,308.37h0M341.83,306.84h0M342.81,305.2h0M343.79,303.54h0M344.77,301.94h0M345.74,300.48h0M346.72,299.09h0M347.7,297.73h0M348.68,296.4h0M349.66,295.1h0M350.63,293.84h0M351.61,292.62h0M352.59,291.45h0M353.57,290.31h0M354.55,289.22h0M355.52,288.18h0M356.5,287.18h0M357.48,286.21h0M358.46,285.28h0M359.44,284.38h0M360.41,283.51h0M361.39,282.67h0M362.37,281.86h0M363.35,281.07h0M364.33,280.29h0M365.3,279.54h0M366.28,278.81h0M367.26,278.1h0M368.24,277.41h0M369.22,276.73h0M370.19,276.07h0M371.17,275.43h0M372.15,274.81h0M373.13,274.2h0M374.11,273.6h0M375.08,273.02h0M376.06,272.45h0M377.04,271.9h0M378.02,271.36h0M379,270.83h0M379.97,270.31h0M380.95,269.81h0M381.93,269.31h0M382.91,268.83h0M383.89,268.35h0M384.86,267.89h0M385.84,267.45h0M386.82,267.02h0M387.8,266.61h0M388.78,266.2h0M389.75,265.8h0M390.73,265.4h0M391.71,264.99h0M392.69,264.58h0M393.67,264.17h0M394.64,263.73h0M395.62,263.28h0M396.6,262.81h0M397.58,262.32h0M398.56,261.78h0M399.53,261.21h0M400.51,260.63h0M401.49,260.03h0M402.47,259.43h0M403.45,258.85h0M404.42,258.29h0M405.4,257.77h0M406.38,257.26h0M407.36,256.77h0M408.34,256.28h0M409.31,255.81h0M410.29,255.33h0M411.27,254.87h0M412.25,254.4h0M413.23,253.93h0M414.2,253.46h0M415.18,252.97h0M416.16,252.47h0M417.14,251.96h0M418.12,251.43h0M419.09,250.9h0M420.07,250.38h0M421.05,249.87h0M422.03,249.38h0M423.01,248.92h0M423.98,248.5h0M424.96,248.12h0M425.94,247.77h0M426.92,247.45h0M427.9,247.16h0M428.87,246.88h0M429.85,246.61h0M430.83,246.35h0M431.81,246.09h0M432.79,245.83h0M433.76,245.57h0M434.74,245.29h0M435.72,245.01h0M436.7,244.72h0M437.68,244.42h0M438.65,244.13h0M439.63,243.83h0M440.61,243.54h0M441.59,243.25h0M442.57,242.98h0M443.54,242.71h0M444.52,242.45h0M445.5,242.21h0M446.48,241.98h0M447.46,241.76h0M448.43,241.54h0M449.41,241.33h0M450.39,241.12h0M451.37,240.92h0M452.35,240.73h0M453.32,240.54h0M454.3,240.36h0M455.28,240.18h0M456.26,240h0M457.24,239.83h0M458.21,239.67h0M459.19,239.51h0M460.17,239.35h0M461.15,239.2h0M462.13,239.05h0M463.1,238.9h0M464.08,238.76h0M465.06,238.62h0M466.04,238.48h0M467.02,238.35h0M467.99,238.23h0M468.97,238.11h0M469.95,238h0M470.93,237.88h0M471.91,237.76h0M472.88,237.64h0M473.86,237.51h0M474.84,237.38h0M475.82,237.24h0M476.8,237.09h0M477.77,236.94h0M478.75,236.78h0M479.73,236.63h0M480.71,236.47h0M481.69,236.3h0M482.66,236.14h0M483.64,235.97h0M484.62,235.81h0M485.6,235.64h0M486.58,235.47h0M487.55,235.31h0M488.53,235.13h0M489.51,234.96h0M490.49,234.79h0M491.47,234.61h0M492.44,234.43h0M493.42,234.25h0M494.4,234.07h0" stroke="#0f8216" stroke-width="2.35" stroke-linecap="round" fill="none"/>
<path d="M299.2,225.4 H519.3 V390.7 H299.2 Z" fill="none" stroke="#383838" stroke-width="1.2"/>
<line x1="298.8" y1="390.7" x2="298.8" y2="387.5" stroke="#383838" stroke-width="1.1"/>
<text transform="translate(298.8,405) scale(0.85,1)" font-size="10.6" text-anchor="middle" fill="#1e1e1e">0</text>
<line x1="347.7" y1="390.7" x2="347.7" y2="387.5" stroke="#383838" stroke-width="1.1"/>
<text transform="translate(347.7,405) scale(0.85,1)" font-size="10.6" text-anchor="middle" fill="#1e1e1e">10</text>
<line x1="396.6" y1="390.7" x2="396.6" y2="387.5" stroke="#383838" stroke-width="1.1"/>
<text transform="translate(396.6,405) scale(0.85,1)" font-size="10.6" text-anchor="middle" fill="#1e1e1e">20</text>
<line x1="445.5" y1="390.7" x2="445.5" y2="387.5" stroke="#383838" stroke-width="1.1"/>
<text transform="translate(445.5,405) scale(0.85,1)" font-size="10.6" text-anchor="middle" fill="#1e1e1e">30</text>
<line x1="494.4" y1="390.7" x2="494.4" y2="387.5" stroke="#383838" stroke-width="1.1"/>
<text transform="translate(494.4,405) scale(0.85,1)" font-size="10.6" text-anchor="middle" fill="#1e1e1e">40</text>
<line x1="299.2" y1="390.6" x2="302.4" y2="390.6" stroke="#383838" stroke-width="1.1"/>
<text transform="translate(294,394.2) scale(0.85,1)" font-size="10.6" text-anchor="end" fill="#1e1e1e">0.0</text>
<line x1="299.2" y1="349.3" x2="302.4" y2="349.3" stroke="#383838" stroke-width="1.1"/>
<text transform="translate(294,352.9) scale(0.85,1)" font-size="10.6" text-anchor="end" fill="#1e1e1e">0.1</text>
<line x1="299.2" y1="308" x2="302.4" y2="308" stroke="#383838" stroke-width="1.1"/>
<text transform="translate(294,311.6) scale(0.85,1)" font-size="10.6" text-anchor="end" fill="#1e1e1e">0.2</text>
<line x1="299.2" y1="266.7" x2="302.4" y2="266.7" stroke="#383838" stroke-width="1.1"/>
<text transform="translate(294,270.3) scale(0.85,1)" font-size="10.6" text-anchor="end" fill="#1e1e1e">0.3</text>
<line x1="299.2" y1="225.4" x2="302.4" y2="225.4" stroke="#383838" stroke-width="1.1"/>
<text transform="translate(294,229) scale(0.85,1)" font-size="10.6" text-anchor="end" fill="#1e1e1e">0.4</text>
<text transform="translate(360.9,419) scale(0.96,1)" font-size="12.0" text-anchor="start" fill="#1e1e1e">Electric field (kV/cm)</text>
<text transform="translate(276.7,331.4) rotate(-90)" font-size="11.5" text-anchor="start" fill="#1e1e1e">Strain (%)</text>
<text transform="translate(306,241.7) scale(0.92,1)" font-size="12.4" text-anchor="start" fill="#1e1e1e">(d)</text>
<circle cx="314" cy="255.9" r="3.2" fill="#0f8216"/>
<text transform="translate(330.3,259.8) scale(0.93,1)" font-size="10.2" text-anchor="start" fill="#1e1e1e"><tspan font-style="italic">x</tspan> = 0.08</text>
<rect x="388.0" y="290.3" width="125.0" height="92.89999999999998" fill="#fff" stroke="#383838" stroke-width="1.1"/>
<line x1="394" y1="290.3" x2="394" y2="293.1" stroke="#383838" stroke-width="1"/>
<line x1="407.78" y1="290.3" x2="407.78" y2="293.1" stroke="#383838" stroke-width="1"/>
<line x1="421.56" y1="290.3" x2="421.56" y2="293.1" stroke="#383838" stroke-width="1"/>
<line x1="435.34" y1="290.3" x2="435.34" y2="293.1" stroke="#383838" stroke-width="1"/>
<line x1="449.12" y1="290.3" x2="449.12" y2="293.1" stroke="#383838" stroke-width="1"/>
<line x1="462.9" y1="290.3" x2="462.9" y2="293.1" stroke="#383838" stroke-width="1"/>
<line x1="476.68" y1="290.3" x2="476.68" y2="293.1" stroke="#383838" stroke-width="1"/>
<line x1="490.46" y1="290.3" x2="490.46" y2="293.1" stroke="#383838" stroke-width="1"/>
<line x1="504.24" y1="290.3" x2="504.24" y2="293.1" stroke="#383838" stroke-width="1"/>
<text transform="translate(394,284.8) scale(0.85,1)" font-size="10.0" text-anchor="middle" fill="#1e1e1e">0.00</text>
<text transform="translate(421.56,284.8) scale(0.85,1)" font-size="10.0" text-anchor="middle" fill="#1e1e1e">0.04</text>
<text transform="translate(449.12,284.8) scale(0.85,1)" font-size="10.0" text-anchor="middle" fill="#1e1e1e">0.08</text>
<text transform="translate(476.68,284.8) scale(0.85,1)" font-size="10.0" text-anchor="middle" fill="#1e1e1e">0.12</text>
<text transform="translate(504.24,284.8) scale(0.85,1)" font-size="10.0" text-anchor="middle" fill="#1e1e1e">0.16</text>
<line x1="388" y1="383" x2="390.8" y2="383" stroke="#383838" stroke-width="1"/>
<text transform="translate(382.4,386.5) scale(0.84,1)" font-size="10.0" text-anchor="end" fill="#1e1e1e">0</text>
<line x1="388" y1="365.96" x2="390.8" y2="365.96" stroke="#383838" stroke-width="1"/>
<text transform="translate(382.4,369.46) scale(0.84,1)" font-size="10.0" text-anchor="end" fill="#1e1e1e">200</text>
<line x1="388" y1="348.92" x2="390.8" y2="348.92" stroke="#383838" stroke-width="1"/>
<text transform="translate(382.4,352.42) scale(0.84,1)" font-size="10.0" text-anchor="end" fill="#1e1e1e">400</text>
<line x1="388" y1="331.88" x2="390.8" y2="331.88" stroke="#383838" stroke-width="1"/>
<text transform="translate(382.4,335.38) scale(0.84,1)" font-size="10.0" text-anchor="end" fill="#1e1e1e">600</text>
<line x1="388" y1="314.84" x2="390.8" y2="314.84" stroke="#383838" stroke-width="1"/>
<text transform="translate(382.4,318.34) scale(0.84,1)" font-size="10.0" text-anchor="end" fill="#1e1e1e">800</text>
<line x1="388" y1="297.8" x2="390.8" y2="297.8" stroke="#383838" stroke-width="1"/>
<text transform="translate(382.4,301.3) scale(0.84,1)" font-size="10.0" text-anchor="end" fill="#1e1e1e">1000</text>
<text transform="translate(449.6,271.6) scale(0.95,1)" font-size="10.6" text-anchor="middle" fill="#1e1e1e"><tspan font-style="italic">x</tspan><tspan dx="1.5"> content</tspan></text>
<text transform="translate(359.6,336) rotate(-90) scale(0.92,1)" font-size="11.0" text-anchor="middle" fill="#1e1e1e">d<tspan font-size="7.4" dy="2.8">33</tspan><tspan dy="-2.8">* (pm/V)</tspan></text>
<path d="M394,338.53 L407.78,331.88 L421.56,329.49 L435.34,315.52 L449.12,302.66 L462.9,329.49 L476.68,348.07 L490.46,360.68 L504.24,365.19" fill="none" stroke="#12128a" stroke-width="1.5" stroke-linejoin="round" stroke-linecap="round"/>
<path d="M394,335.13 L397.4,338.53 L394,341.93 L390.6,338.53 Z" fill="#12128a"/>
<path d="M407.78,328.48 L411.18,331.88 L407.78,335.28 L404.38,331.88 Z" fill="#12128a"/>
<path d="M421.56,326.09 L424.96,329.49 L421.56,332.89 L418.16,329.49 Z" fill="#12128a"/>
<path d="M435.34,312.12 L438.74,315.52 L435.34,318.92 L431.94,315.52 Z" fill="#12128a"/>
<path d="M449.12,299.26 L452.52,302.66 L449.12,306.06 L445.72,302.66 Z" fill="#12128a"/>
<path d="M462.9,326.09 L466.3,329.49 L462.9,332.89 L459.5,329.49 Z" fill="#12128a"/>
<path d="M476.68,344.67 L480.08,348.07 L476.68,351.47 L473.28,348.07 Z" fill="#12128a"/>
<path d="M490.46,357.28 L493.86,360.68 L490.46,364.08 L487.06,360.68 Z" fill="#12128a"/>
<path d="M504.24,361.79 L507.64,365.19 L504.24,368.59 L500.84,365.19 Z" fill="#12128a"/>
<line x1="460.2" y1="308.9" x2="482.4" y2="308.9" stroke="#12128a" stroke-width="1.5"/>
<path d="M471.3,305.5 L474.7,308.9 L471.3,312.3 L467.9,308.9 Z" fill="#12128a"/>
<text transform="translate(487.4,312.4) scale(0.92,1)" font-size="10.4" text-anchor="start" fill="#1e1e1e"><tspan font-style="italic">d</tspan><tspan font-size="6.8" dy="2.6">33</tspan><tspan dy="-6" font-size="8">*</tspan></text>
</svg>
</body></html>
